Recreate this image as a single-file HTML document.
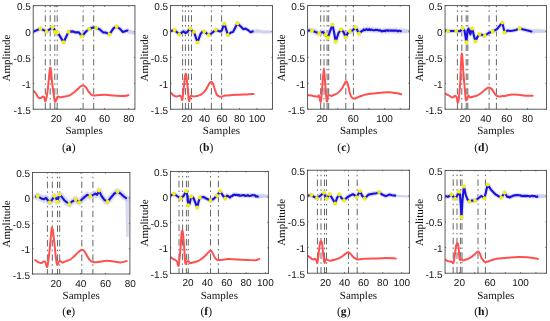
<!DOCTYPE html>
<html><head><meta charset="utf-8"><title>figure</title>
<style>
html,body{margin:0;padding:0;background:#fff;}
body{width:550px;height:321px;overflow:hidden;}
svg{display:block;filter:blur(0.35px);text-rendering:geometricPrecision;}
.tk{font-family:"Liberation Sans",sans-serif;font-size:10px;fill:#111111;}
.lb{font-family:"Liberation Serif",serif;font-size:11px;fill:#111111;}
.cap{font-family:"Liberation Serif",serif;font-size:11.6px;fill:#111111;}
</style></head><body>
<svg width="550" height="321" viewBox="0 0 550 321">
<clipPath id="ca"><rect x="33.2" y="5.65" width="101.75" height="103.55"/></clipPath>
<g clip-path="url(#ca)">
<line x1="45.3" y1="5.65" x2="45.3" y2="109.2" stroke="#555555" stroke-width="0.9" stroke-dasharray="6.5 3.25 1.5 3.33" stroke-dashoffset="4.95"/>
<line x1="50.2" y1="5.65" x2="50.2" y2="109.2" stroke="#555555" stroke-width="0.9" stroke-dasharray="6.5 3.25 1.5 3.33" stroke-dashoffset="4.95"/>
<line x1="54.8" y1="5.65" x2="54.8" y2="109.2" stroke="#555555" stroke-width="0.9" stroke-dasharray="6.5 3.25 1.5 3.33" stroke-dashoffset="4.95"/>
<line x1="57.2" y1="5.65" x2="57.2" y2="109.2" stroke="#555555" stroke-width="0.9" stroke-dasharray="6.5 3.25 1.5 3.33" stroke-dashoffset="4.95"/>
<line x1="83.1" y1="5.65" x2="83.1" y2="109.2" stroke="#555555" stroke-width="0.9" stroke-dasharray="6.5 3.25 1.5 3.33" stroke-dashoffset="4.95"/>
<line x1="93.7" y1="5.65" x2="93.7" y2="109.2" stroke="#555555" stroke-width="0.9" stroke-dasharray="6.5 3.25 1.5 3.33" stroke-dashoffset="4.95"/>
<polyline points="33.1,31.9 40.5,28.6 46.7,31.6 49.5,29.5 52.5,27.2 54.3,29.2 54.9,32 57.6,32.4 63.6,42.3 68.5,31.9 72.9,31.4 75.6,32.4 78.9,32.4 82,36.3 86,31.5 89.1,29 93,27.5 96.2,27.9 99.5,29.2 103.3,32.5 105.5,32.5 109.5,34.4 113.6,28.1 116.7,26.5 119.6,28.6 122.9,31.9 127.3,30.6" fill="none" stroke="#d2d5f0" stroke-width="4.5" stroke-linejoin="round" stroke-linecap="round" opacity="0.6"/>
<polyline points="127.3,30.6 131,32 134.5,33" fill="none" stroke="#d2d5f0" stroke-width="3.5" stroke-linejoin="round" stroke-linecap="round" opacity="0.8"/>
<path d="M33.1,30.6V34M33.8,30.11V33.09M34.5,29.01V33.37M35.2,29.54V33.02M35.9,28.26V32.11M36.6,28.77V32.42M37.3,27.83V31.89M38,27.68V31.61M38.7,27.86V31.31M39.4,27.04V30.86M40.1,27.36V30.35M40.8,26.43V30.97M41.5,27.1V30.87M42.2,27.06V31.34M42.9,28.48V31.12M43.6,28.08V32.26M44.3,28.67V32.6M45,28.68V33.12M45.7,29.74V32.63M46.4,29.59V33.02M47.1,28.98V33.43M47.8,28.52V32.43M48.5,28.82V32.31M49.2,27.81V31.86M49.9,27.25V31.25M50.6,26.6V30.09M51.3,26.47V29.79M52,25.32V29.07M52.7,25.6V29.44M53.4,26.09V30.2M54.1,26.75V30.74M54.8,29.51V33.68M55.5,29.99V34.28M56.2,30.55V34.59M56.9,30.39V34.14M57.6,31.07V33.79M58.3,32.18V35.19M59,32.79V36.45M59.7,33.65V37.39M60.4,35.56V39.4M61.1,36.58V40.1M61.8,37.49V40.94M62.5,38.26V42.74M63.2,40.3V43.7M63.9,39.36V43.61M64.6,38.08V42.01M65.3,37.24V40.8M66,35.21V38.79M66.7,33.89V37.85M67.4,32.45V36.18M68.1,30.53V34.75M68.8,29.77V33.84M69.5,30.5V33.74M70.2,30.19V33.81M70.9,29.25V33.53M71.6,29.55V33.66M72.3,30.06V33.56M73,29.45V33.32M73.7,29.34V33.39M74.4,29.78V34.07M75.1,30.88V34.36M75.8,30.77V34.37M76.5,30.98V34.29M77.2,31V33.98M77.9,30.27V34.13M78.6,30.53V34M79.3,31.51V34.8M80,31.88V35.4M80.7,32.7V37.01M81.4,33.67V37.44M82.1,34.33V38.19M82.8,33.72V37.18M83.5,32.44V36.83M84.2,32.02V35.24M84.9,30.56V34.76M85.6,30.02V34.35M86.3,29.69V33.45M87,28.41V32.72M87.7,27.89V32.23M88.4,27.66V31.54M89.1,27.55V30.42M89.8,26.79V30.87M90.5,26.31V30.42M91.2,26.21V30.48M91.9,25.59V30.05M92.6,25.37V29.55M93.3,25.45V29.94M94,26.17V29.03M94.7,26.38V29.34M95.4,25.56V29.32M96.1,25.91V29.94M96.8,26.55V29.73M97.5,26.98V29.97M98.2,26.95V30.59M98.9,26.7V31.3M99.6,27.96V30.99M100.3,27.54V32.18M101,28.41V32.62M101.7,28.73V33.36M102.4,29.54V34.01M103.1,30.46V34.35M103.8,30.25V34.17M104.5,30.78V34.34M105.2,30.26V33.92M105.9,30.44V34.99M106.6,31.66V34.39M107.3,31.11V35.6M108,31.71V35.1M108.7,32.62V36.17M109.4,32.41V36.29M110.1,31.13V35.19M110.8,30.57V33.76M111.5,29.5V32.9M112.2,28.55V32.08M112.9,27.11V30.55M113.6,26.67V29.99M114.3,25.51V29.98M115,25.6V29.03M115.7,25.64V29.21M116.4,24.39V28.54M117.1,25.37V28.33M117.8,25.94V29.3M118.5,25.87V29.12M119.2,26.65V30.2M119.9,27.07V30.35M120.6,27.43V31.44M121.3,28.34V32.26M122,29.36V33.13M122.7,29.34V33.51M123.4,29.96V33.62M124.1,29.97V33.89M124.8,29.92V33.15M125.5,29.38V33.14M126.2,28.81V32.63M126.9,28.52V32.36M127.6,28.84V33.53M128.3,27.65V33.65M129,29.02V34.09M129.7,29.3V33.87M130.4,29.95V34.39M131.1,29.78V34.43M131.8,29.74V33.61M132.5,30.15V34.15M133.2,30.97V34.68M133.9,31.62V34.15" stroke="#c4c8ea" stroke-width="0.7" opacity="0.6" fill="none"/>
<polyline points="33.1,31.9 40.5,28.6 46.7,31.6 49.5,29.5 52.5,27.2 54.3,29.2 54.9,32 57.6,32.4 63.6,42.3 68.5,31.9 72.9,31.4 75.6,32.4 78.9,32.4 82,36.3 86,31.5 89.1,29 93,27.5 96.2,27.9 99.5,29.2 103.3,32.5 105.5,32.5 109.5,34.4 113.6,28.1 116.7,26.5 119.6,28.6 122.9,31.9 127.3,30.6" fill="none" stroke="#1a12dc" stroke-width="2.1" stroke-linejoin="round" stroke-linecap="round"/>
<circle cx="40.5" cy="28.6" r="1.95" fill="#f4f000"/>
<circle cx="46.7" cy="31.6" r="1.95" fill="#f4f000"/>
<circle cx="52.5" cy="27.2" r="1.95" fill="#f4f000"/>
<circle cx="54.9" cy="32" r="1.95" fill="#f4f000"/>
<circle cx="57.6" cy="32.4" r="1.95" fill="#f4f000"/>
<circle cx="63.6" cy="42.3" r="1.95" fill="#f4f000"/>
<circle cx="68.5" cy="31.9" r="1.95" fill="#f4f000"/>
<circle cx="82" cy="36.3" r="1.95" fill="#f4f000"/>
<circle cx="89.1" cy="29" r="1.95" fill="#f4f000"/>
<circle cx="96.2" cy="27.9" r="1.95" fill="#f4f000"/>
<circle cx="109.5" cy="34.4" r="1.95" fill="#f4f000"/>
<circle cx="116.7" cy="26.5" r="1.95" fill="#f4f000"/>
<path d="M33.6,90.8 C33.98,91.25 35.13,92.4 35.9,93.5 C36.67,94.6 37.42,96.63 38.2,97.4 C38.98,98.17 39.82,98.23 40.6,98.1 C41.38,97.97 42.28,96.7 42.9,96.6 C43.52,96.5 43.87,96.77 44.3,97.5 C44.73,98.23 44.95,102.07 45.5,101 C46.05,99.93 46.82,96.63 47.6,91.1 C48.38,85.57 49.43,69.08 50.2,67.8 C50.97,66.52 51.55,78.47 52.2,83.4 C52.85,88.33 53.58,94.33 54.1,97.4 C54.62,100.47 54.7,101.93 55.3,101.8 C55.9,101.67 56.92,97.33 57.7,96.6 C58.48,95.87 59.1,97.37 60,97.4 C60.9,97.43 62.1,96.98 63.1,96.8 C64.1,96.62 64.92,96.53 66,96.3 C67.08,96.07 68.38,95.95 69.6,95.4 C70.82,94.85 72.05,93.93 73.3,93 C74.55,92.07 75.92,90.88 77.1,89.8 C78.28,88.72 79.38,87.23 80.4,86.5 C81.42,85.77 82.27,85.25 83.2,85.4 C84.13,85.55 85.15,86.43 86,87.4 C86.85,88.37 87.45,90.03 88.3,91.2 C89.15,92.37 90.22,93.67 91.1,94.4 C91.98,95.13 92.23,95.5 93.6,95.6 C94.97,95.7 97.38,95.13 99.3,95 C101.22,94.87 102.68,94.72 105.1,94.8 C107.52,94.88 110.9,95.3 113.8,95.5 C116.7,95.7 120.43,95.95 122.5,96 C124.57,96.05 125.22,95.95 126.2,95.8 C127.18,95.65 128.03,95.22 128.4,95.1" fill="none" stroke="#ff5050" stroke-width="2.0" stroke-linejoin="round" stroke-linecap="round"/>
</g>
<rect x="33.2" y="5.65" width="101.75" height="103.55" fill="none" stroke="#4a4a4a" stroke-width="0.9"/>
<line x1="33.2" y1="5.65" x2="34.2" y2="5.65" stroke="#4a4a4a" stroke-width="0.9"/>
<line x1="133.95" y1="5.65" x2="134.95" y2="5.65" stroke="#4a4a4a" stroke-width="0.9"/>
<text x="30.8" y="10.25" class="tk" text-anchor="end">0.5</text>
<line x1="33.2" y1="31.54" x2="34.2" y2="31.54" stroke="#4a4a4a" stroke-width="0.9"/>
<line x1="133.95" y1="31.54" x2="134.95" y2="31.54" stroke="#4a4a4a" stroke-width="0.9"/>
<text x="30.8" y="36.14" class="tk" text-anchor="end">0</text>
<line x1="33.2" y1="57.42" x2="34.2" y2="57.42" stroke="#4a4a4a" stroke-width="0.9"/>
<line x1="133.95" y1="57.42" x2="134.95" y2="57.42" stroke="#4a4a4a" stroke-width="0.9"/>
<text x="30.8" y="62.02" class="tk" text-anchor="end">-0.5</text>
<line x1="33.2" y1="83.31" x2="34.2" y2="83.31" stroke="#4a4a4a" stroke-width="0.9"/>
<line x1="133.95" y1="83.31" x2="134.95" y2="83.31" stroke="#4a4a4a" stroke-width="0.9"/>
<text x="30.8" y="87.91" class="tk" text-anchor="end">-1</text>
<line x1="33.2" y1="109.2" x2="34.2" y2="109.2" stroke="#4a4a4a" stroke-width="0.9"/>
<line x1="133.95" y1="109.2" x2="134.95" y2="109.2" stroke="#4a4a4a" stroke-width="0.9"/>
<text x="30.8" y="113.8" class="tk" text-anchor="end">-1.5</text>
<line x1="56.25" y1="109.2" x2="56.25" y2="108.2" stroke="#4a4a4a" stroke-width="0.9"/>
<line x1="56.25" y1="5.65" x2="56.25" y2="6.65" stroke="#4a4a4a" stroke-width="0.9"/>
<line x1="80.4" y1="109.2" x2="80.4" y2="108.2" stroke="#4a4a4a" stroke-width="0.9"/>
<line x1="80.4" y1="5.65" x2="80.4" y2="6.65" stroke="#4a4a4a" stroke-width="0.9"/>
<line x1="104.55" y1="109.2" x2="104.55" y2="108.2" stroke="#4a4a4a" stroke-width="0.9"/>
<line x1="104.55" y1="5.65" x2="104.55" y2="6.65" stroke="#4a4a4a" stroke-width="0.9"/>
<line x1="128.7" y1="109.2" x2="128.7" y2="108.2" stroke="#4a4a4a" stroke-width="0.9"/>
<line x1="128.7" y1="5.65" x2="128.7" y2="6.65" stroke="#4a4a4a" stroke-width="0.9"/>
<text x="56.25" y="122.1" class="tk" text-anchor="middle">20</text>
<text x="80.4" y="122.1" class="tk" text-anchor="middle">40</text>
<text x="104.55" y="122.1" class="tk" text-anchor="middle">60</text>
<text x="128.7" y="122.1" class="tk" text-anchor="middle">80</text>
<text class="lb" text-anchor="middle" transform="translate(10,58.03) rotate(-90)">Amplitude</text>
<text x="84.07" y="134" class="lb" text-anchor="middle">Samples</text>
<text x="68.75" y="150.7" class="cap" text-anchor="middle">(<tspan font-weight="bold">a</tspan>)</text>
<clipPath id="cb"><rect x="170.5" y="5.6" width="102" height="103.6"/></clipPath>
<g clip-path="url(#cb)">
<line x1="182.6" y1="5.6" x2="182.6" y2="109.2" stroke="#555555" stroke-width="0.9" stroke-dasharray="6.5 3.25 1.5 3.33" stroke-dashoffset="4.9"/>
<line x1="185.4" y1="5.6" x2="185.4" y2="109.2" stroke="#555555" stroke-width="0.9" stroke-dasharray="6.5 3.25 1.5 3.33" stroke-dashoffset="4.9"/>
<line x1="188.6" y1="5.6" x2="188.6" y2="109.2" stroke="#555555" stroke-width="0.9" stroke-dasharray="6.5 3.25 1.5 3.33" stroke-dashoffset="4.9"/>
<line x1="191.5" y1="5.6" x2="191.5" y2="109.2" stroke="#555555" stroke-width="0.9" stroke-dasharray="6.5 3.25 1.5 3.33" stroke-dashoffset="4.9"/>
<line x1="211.4" y1="5.6" x2="211.4" y2="109.2" stroke="#555555" stroke-width="0.9" stroke-dasharray="6.5 3.25 1.5 3.33" stroke-dashoffset="4.9"/>
<line x1="221.6" y1="5.6" x2="221.6" y2="109.2" stroke="#555555" stroke-width="0.9" stroke-dasharray="6.5 3.25 1.5 3.33" stroke-dashoffset="4.9"/>
<polyline points="171.1,31.1 174.6,30 179.3,34.4 182,32.4 183.6,31.4 185.3,33 186.8,32.5 188.5,30.3 190.4,28.6 192.3,31.4 194,31.9 197.5,42.5 200.5,34.1 202.2,31.9 204.3,31.4 208.7,35.2 212,33 215.8,29.7 218,30.8 220,31.4 221.6,30.8 224.4,23.7 227.9,35 230.9,32.5 233.1,31.9 235.3,27.5 237.5,23.2 240.2,25.9 243.5,29.2 245.6,28.6 248.4,30.3 250.5,32.2 252.7,31.4" fill="none" stroke="#d2d5f0" stroke-width="4.5" stroke-linejoin="round" stroke-linecap="round" opacity="0.6"/>
<polyline points="252.7,31.4 258,31 264,32 271.3,31.9" fill="none" stroke="#d2d5f0" stroke-width="2.6" stroke-linejoin="round" stroke-linecap="round" opacity="0.8"/>
<path d="M171.1,28.83V32.6M171.8,29.4V32.23M172.5,29.18V32.09M173.2,28.89V31.73M173.9,28.67V32.46M174.6,27.77V31.85M175.3,29.02V32.09M176,29.65V33.57M176.7,30.65V33.36M177.4,30.95V34.79M178.1,31.22V35.25M178.8,32.02V35.84M179.5,31.88V35.99M180.2,31.96V35.28M180.9,31V35.12M181.6,30.85V34.83M182.3,30.64V34.06M183,29.66V33.76M183.7,29.97V33.61M184.4,29.97V33.55M185.1,30.41V34.45M185.8,30.45V34.34M186.5,30.75V34.39M187.2,30.14V33.31M187.9,29.66V32.96M188.6,28V32.38M189.3,27.48V31.19M190,26.57V30.56M190.7,26.68V31.12M191.4,28.3V31.58M192.1,28.96V32.81M192.8,29.89V33.47M193.5,29.98V33.32M194.2,30.73V34.39M194.9,32.42V36.18M195.6,35.28V38.42M196.3,36.56V41.04M197,39.13V43.26M197.7,40.3V43.82M198.4,37.85V41.68M199.1,36.06V39.77M199.8,34.64V37.34M200.5,31.79V35.92M201.2,31.07V34.7M201.9,29.91V33.72M202.6,30.24V33.34M203.3,29.84V33.67M204,29.94V33.61M204.7,29.87V33.22M205.4,30.32V34.12M206.1,31.12V35.08M206.8,31.49V35.42M207.5,31.81V36.48M208.2,33.24V36.8M208.9,33.12V36.75M209.6,32.68V36.37M210.3,32.5V35.44M211,31.75V36.05M211.7,31.9V34.57M212.4,30.84V34.08M213.1,30.16V33.97M213.8,29.81V33.15M214.5,28.6V32.64M215.2,28.73V32.37M215.9,27.37V31.8M216.6,28.65V32.05M217.3,28.1V32.85M218,28.78V32.24M218.7,29.6V32.67M219.4,29.86V33.31M220.1,29.46V33.07M220.8,29.33V32.49M221.5,28.87V32.8M222.2,27.98V30.73M222.9,26.19V29.84M223.6,24.41V27.17M224.3,22.36V26.08M225,24.09V27.79M225.7,25.69V29.79M226.4,27.91V32.55M227.1,30.16V34.47M227.8,32.83V36.63M228.5,32.28V36.21M229.2,31.79V36.27M229.9,31.41V35.59M230.6,30.64V34.46M231.3,30.85V34.04M232,30.07V33.88M232.7,29.93V33.42M233.4,29.6V32.73M234.1,27.75V31.44M234.8,26.42V29.95M235.5,25.09V29.46M236.2,23.41V27.19M236.9,22.53V25.74M237.6,21.88V25.05M238.3,22.02V25.67M239,22.6V27.05M239.7,23.14V27.55M240.4,24.58V27.97M241.1,24.62V28.67M241.8,25.63V29.71M242.5,25.98V29.68M243.2,26.72V30.87M243.9,27.37V30.47M244.6,27.4V30.54M245.3,27.03V31.03M246,26.91V30.51M246.7,27.78V31.03M247.4,27.84V31.23M248.1,28.15V31.45M248.8,28.7V32.51M249.5,29.29V33.65M250.2,29.95V33.63M250.9,30.11V33.53M251.6,29.89V34.09M252.3,29.85V33.88M253,28.61V33.98M253.7,28.93V33.66M254.4,28.95V33.74M255.1,29.36V33.61M255.8,28.79V33.76M256.5,28.44V33.76M257.2,29.36V33.08M257.9,29.06V33.48M258.6,28.93V33.62M259.3,29V33.42M260,29.79V33.74M260.7,29.75V33.24M261.4,29.86V33.08M262.1,29.68V33.27M262.8,30.11V33.58M263.5,30.67V33.59M264.2,30.07V33.46M264.9,30.12V33.49M265.6,30V33.83M266.3,30.13V33.61M267,30.12V33.56M267.7,30.52V33.43M268.4,30.62V33.24M269.1,30.34V33.26M269.8,30.16V33.56M270.5,30.68V33.28M271.2,30.57V33.57" stroke="#c4c8ea" stroke-width="0.7" opacity="0.6" fill="none"/>
<polyline points="171.1,31.1 174.6,30 179.3,34.4 182,32.4 183.6,31.4 185.3,33 186.8,32.5 188.5,30.3 190.4,28.6 192.3,31.4 194,31.9 197.5,42.5 200.5,34.1 202.2,31.9 204.3,31.4 208.7,35.2 212,33 215.8,29.7 218,30.8 220,31.4 221.6,30.8 224.4,23.7 227.9,35 230.9,32.5 233.1,31.9 235.3,27.5 237.5,23.2 240.2,25.9 243.5,29.2 245.6,28.6 248.4,30.3 250.5,32.2 252.7,31.4" fill="none" stroke="#1a12dc" stroke-width="2.1" stroke-linejoin="round" stroke-linecap="round"/>
<circle cx="174.6" cy="30" r="1.95" fill="#f4f000"/>
<circle cx="179.3" cy="34.4" r="1.95" fill="#f4f000"/>
<circle cx="190.4" cy="28.6" r="1.95" fill="#f4f000"/>
<circle cx="194" cy="31.9" r="1.95" fill="#f4f000"/>
<circle cx="197.5" cy="42.5" r="1.95" fill="#f4f000"/>
<circle cx="204.3" cy="31.4" r="1.95" fill="#f4f000"/>
<circle cx="208.7" cy="35.2" r="1.95" fill="#f4f000"/>
<circle cx="215.8" cy="29.7" r="1.95" fill="#f4f000"/>
<circle cx="224.4" cy="23.7" r="1.95" fill="#f4f000"/>
<circle cx="227.9" cy="35" r="1.95" fill="#f4f000"/>
<circle cx="237.5" cy="23.2" r="1.95" fill="#f4f000"/>
<path d="M170.8,92.5 C171.23,92.98 172.42,94.72 173.4,95.4 C174.38,96.08 175.58,96.6 176.7,96.6 C177.82,96.6 179.35,95.37 180.1,95.4 C180.85,95.43 180.83,96.05 181.2,96.8 C181.57,97.55 181.92,101.03 182.3,99.9 C182.68,98.77 182.95,94.35 183.5,90 C184.05,85.65 184.95,74.67 185.6,73.8 C186.25,72.93 186.85,80.33 187.4,84.8 C187.95,89.27 188.43,98.55 188.9,100.6 C189.37,102.65 189.8,97.93 190.2,97.1 C190.6,96.27 190.75,95.68 191.3,95.6 C191.85,95.52 192.57,96.53 193.5,96.6 C194.43,96.67 195.73,96.28 196.9,96 C198.07,95.72 199.25,95.63 200.5,94.9 C201.75,94.17 203.28,92.85 204.4,91.6 C205.52,90.35 206.33,88.8 207.2,87.4 C208.07,86 208.9,84.13 209.6,83.2 C210.3,82.27 210.87,81.8 211.4,81.8 C211.93,81.8 212.4,82.5 212.8,83.2 C213.2,83.9 213.4,84.75 213.8,86 C214.2,87.25 214.67,89.22 215.2,90.7 C215.73,92.18 216.3,93.93 217,94.9 C217.7,95.87 218.7,96.18 219.4,96.5 C220.1,96.82 220.22,96.95 221.2,96.8 C222.18,96.65 223.42,95.88 225.3,95.6 C227.18,95.32 230.08,95.25 232.5,95.1 C234.92,94.95 237.37,94.82 239.8,94.7 C242.23,94.58 244.8,94.53 247.1,94.4 C249.4,94.27 252.52,93.98 253.6,93.9" fill="none" stroke="#ff5050" stroke-width="2.0" stroke-linejoin="round" stroke-linecap="round"/>
</g>
<rect x="170.5" y="5.6" width="102" height="103.6" fill="none" stroke="#4a4a4a" stroke-width="0.9"/>
<line x1="170.5" y1="5.6" x2="171.5" y2="5.6" stroke="#4a4a4a" stroke-width="0.9"/>
<line x1="271.5" y1="5.6" x2="272.5" y2="5.6" stroke="#4a4a4a" stroke-width="0.9"/>
<text x="168.1" y="10.2" class="tk" text-anchor="end">0.5</text>
<line x1="170.5" y1="31.5" x2="171.5" y2="31.5" stroke="#4a4a4a" stroke-width="0.9"/>
<line x1="271.5" y1="31.5" x2="272.5" y2="31.5" stroke="#4a4a4a" stroke-width="0.9"/>
<text x="168.1" y="36.1" class="tk" text-anchor="end">0</text>
<line x1="170.5" y1="57.4" x2="171.5" y2="57.4" stroke="#4a4a4a" stroke-width="0.9"/>
<line x1="271.5" y1="57.4" x2="272.5" y2="57.4" stroke="#4a4a4a" stroke-width="0.9"/>
<text x="168.1" y="62" class="tk" text-anchor="end">-0.5</text>
<line x1="170.5" y1="83.3" x2="171.5" y2="83.3" stroke="#4a4a4a" stroke-width="0.9"/>
<line x1="271.5" y1="83.3" x2="272.5" y2="83.3" stroke="#4a4a4a" stroke-width="0.9"/>
<text x="168.1" y="87.9" class="tk" text-anchor="end">-1</text>
<line x1="170.5" y1="109.2" x2="171.5" y2="109.2" stroke="#4a4a4a" stroke-width="0.9"/>
<line x1="271.5" y1="109.2" x2="272.5" y2="109.2" stroke="#4a4a4a" stroke-width="0.9"/>
<text x="168.1" y="113.8" class="tk" text-anchor="end">-1.5</text>
<line x1="187" y1="109.2" x2="187" y2="108.2" stroke="#4a4a4a" stroke-width="0.9"/>
<line x1="187" y1="5.6" x2="187" y2="6.6" stroke="#4a4a4a" stroke-width="0.9"/>
<line x1="204.5" y1="109.2" x2="204.5" y2="108.2" stroke="#4a4a4a" stroke-width="0.9"/>
<line x1="204.5" y1="5.6" x2="204.5" y2="6.6" stroke="#4a4a4a" stroke-width="0.9"/>
<line x1="222" y1="109.2" x2="222" y2="108.2" stroke="#4a4a4a" stroke-width="0.9"/>
<line x1="222" y1="5.6" x2="222" y2="6.6" stroke="#4a4a4a" stroke-width="0.9"/>
<line x1="239.5" y1="109.2" x2="239.5" y2="108.2" stroke="#4a4a4a" stroke-width="0.9"/>
<line x1="239.5" y1="5.6" x2="239.5" y2="6.6" stroke="#4a4a4a" stroke-width="0.9"/>
<line x1="257" y1="109.2" x2="257" y2="108.2" stroke="#4a4a4a" stroke-width="0.9"/>
<line x1="257" y1="5.6" x2="257" y2="6.6" stroke="#4a4a4a" stroke-width="0.9"/>
<text x="187" y="122.1" class="tk" text-anchor="middle">20</text>
<text x="204.5" y="122.1" class="tk" text-anchor="middle">40</text>
<text x="222" y="122.1" class="tk" text-anchor="middle">60</text>
<text x="239.5" y="122.1" class="tk" text-anchor="middle">80</text>
<text x="257" y="122.1" class="tk" text-anchor="middle">100</text>
<text class="lb" text-anchor="middle" transform="translate(147.5,58) rotate(-90)">Amplitude</text>
<text x="221.5" y="134" class="lb" text-anchor="middle">Samples</text>
<text x="206.25" y="150.7" class="cap" text-anchor="middle">(<tspan font-weight="bold">b</tspan>)</text>
<clipPath id="cc"><rect x="307.6" y="5.6" width="101.9" height="103.6"/></clipPath>
<g clip-path="url(#cc)">
<line x1="320.7" y1="5.6" x2="320.7" y2="109.2" stroke="#555555" stroke-width="0.9" stroke-dasharray="6.5 3.25 1.5 3.33" stroke-dashoffset="4.9"/>
<line x1="324" y1="5.6" x2="324" y2="109.2" stroke="#555555" stroke-width="0.9" stroke-dasharray="6.5 3.25 1.5 3.33" stroke-dashoffset="4.9"/>
<line x1="327.1" y1="5.6" x2="327.1" y2="109.2" stroke="#555555" stroke-width="0.9" stroke-dasharray="6.5 3.25 1.5 3.33" stroke-dashoffset="4.9"/>
<line x1="328.7" y1="5.6" x2="328.7" y2="109.2" stroke="#555555" stroke-width="0.9" stroke-dasharray="6.5 3.25 1.5 3.33" stroke-dashoffset="4.9"/>
<line x1="345.8" y1="5.6" x2="345.8" y2="109.2" stroke="#555555" stroke-width="0.9" stroke-dasharray="6.5 3.25 1.5 3.33" stroke-dashoffset="4.9"/>
<line x1="353.4" y1="5.6" x2="353.4" y2="109.2" stroke="#555555" stroke-width="0.9" stroke-dasharray="6.5 3.25 1.5 3.33" stroke-dashoffset="4.9"/>
<polyline points="307.7,30.5 312,30.5 315.5,32 319.2,33.4 322.8,31.9 325.6,34.8 327.8,37.7 330.5,30 332.5,24.8 334.2,33 335.7,41.5 338.5,33 341,29.5 343.5,32 345.7,37.2 347.8,33 349.7,31.2 352.5,30.5 355.7,27.2 359,33.4 362.2,30.5 365.5,29.5 369.3,29.5 373,30 376.5,30.1 380,30.8 383.6,31.2 387,30.6 390.8,30.5 394.5,31 398,30.9 400.8,31.2" fill="none" stroke="#d2d5f0" stroke-width="4.5" stroke-linejoin="round" stroke-linecap="round" opacity="0.6"/>
<polyline points="400.8,31.2 405,31 409.4,31.2" fill="none" stroke="#d2d5f0" stroke-width="3.5" stroke-linejoin="round" stroke-linecap="round" opacity="0.8"/>
<path d="M307.7,27.54V32.42M308.4,27.71V33.17M309.1,26.88V33.46M309.8,27.93V32.96M310.5,28.47V32.95M311.2,27.22V33.55M311.9,28.29V34.27M312.6,28.24V32.89M313.3,28.28V34.78M314,28.72V33.28M314.7,28.5V35.06M315.4,28.88V34.48M316.1,28.26V35.84M316.8,29.09V34.97M317.5,30.39V36.75M318.2,30.61V35.32M318.9,30.55V36.92M319.6,31.38V36.19M320.3,28.99V35.34M321,30.65V36.49M321.7,30.38V35.27M322.4,28.39V34.86M323.1,29.31V34.66M323.8,30.02V36.13M324.5,30.06V36.5M325.2,30.88V37.1M325.9,32.42V37.22M326.6,33.79V37.9M327.3,34V39.96M328,35.27V39.52M328.7,31.84V38.82M329.4,30.71V36.64M330.1,28.89V34.81M330.8,26.37V32.85M331.5,24.13V31M332.2,23.76V28.38M332.9,23.21V28.78M333.6,28.13V32.84M334.3,31V36.65M335,34.54V40.12M335.7,39.4V45.01M336.4,37.46V42.9M337.1,35.26V39.78M337.8,31.94V37.94M338.5,29.23V36.65M339.2,29.36V34.67M339.9,28.17V34.2M340.6,28.13V32.49M341.3,27.06V32.11M342,27.07V32.77M342.7,28.38V33.79M343.4,28.44V35.6M344.1,29.59V37.06M344.8,31.45V36.89M345.5,32.88V40.39M346.2,34.18V39.14M346.9,32.78V36.86M347.6,30.96V35.54M348.3,30.3V34.89M349,28.37V34.07M349.7,27.64V33.52M350.4,28.17V34.41M351.1,28.91V34.42M351.8,28.49V34.05M352.5,28.64V33.79M353.2,25.96V31.92M353.9,25.69V31.86M354.6,24.91V30.86M355.3,25.55V30.65M356,25.7V31.72M356.7,27.04V31.48M357.4,28.55V33.47M358.1,27.79V34.89M358.8,29.04V36.62M359.5,30.75V34.79M360.2,28.48V36.25M360.9,28.71V35.5M361.6,28.91V34.04M362.3,27.94V33.25M363,27.76V33.54M363.7,26.23V32.62M364.4,27.19V32.08M365.1,27.78V33.11M365.8,26.91V33.08M366.5,26.5V31.72M367.2,25.99V32.8M367.9,26.44V32.71M368.6,27.14V32.44M369.3,26.79V31.83M370,25.6V32.93M370.7,27.69V32.95M371.4,27.27V31.68M372.1,26.44V33.5M372.8,26.4V33.68M373.5,27.16V32.19M374.2,27.6V31.81M374.9,27.6V33.41M375.6,27.9V33.16M376.3,27.8V32.11M377,27.55V33.81M377.7,28.25V32.37M378.4,27.86V32.66M379.1,26.96V32.54M379.8,27.43V33.67M380.5,27.24V32.84M381.2,28.31V34.11M381.9,28.78V33.55M382.6,29.26V35.02M383.3,27.48V33.12M384,29.02V33.26M384.7,27.08V33.15M385.4,27.53V33.83M386.1,28.46V34.1M386.8,27.6V34.16M387.5,28.38V33.68M388.2,26.71V33.7M388.9,27.82V34.39M389.6,28.01V33.89M390.3,26.75V32.68M391,28.52V32.8M391.7,28.69V34.14M392.4,27.98V33.04M393.1,28.33V34.66M393.8,27.75V33.3M394.5,27.06V33.67M395.2,27.66V33.91M395.9,28.87V33.83M396.6,27.14V34.59M397.3,27.22V32.69M398,28.76V33.54M398.7,28.96V34.94M399.4,28.2V34.11M400.1,27.96V34.07M400.8,27.71V33.68M401.5,29.21V33.53M402.2,27.88V33.41M402.9,28.37V33.65M403.6,28.11V33.03M404.3,28.09V34.03M405,29.32V32.98M405.7,28.52V33.41M406.4,28.59V32.99M407.1,29.64V32.77M407.8,29.22V33.18M408.5,29.12V33.06M409.2,29.62V32.96" stroke="#c4c8ea" stroke-width="0.7" opacity="0.6" fill="none"/>
<polyline points="307.7,30.5 312,30.5 315.5,32 319.2,33.4 322.8,31.9 325.6,34.8 327.8,37.7 330.5,30 332.5,24.8 334.2,33 335.7,41.5 338.5,33 341,29.5 343.5,32 345.7,37.2 347.8,33 349.7,31.2 352.5,30.5 355.7,27.2 359,33.4 362,30.91 362.9,30.73 363.8,29.48 364.7,30.23 365.6,29.85 366.5,29.01 367.4,29.84 368.3,29.83 369.2,29.16 370.1,30.13 371,29.58 371.9,29.8 372.8,30.14 373.7,30.23 374.6,30.32 375.5,29.83 376.4,30.08 377.3,29.86 378.2,30.19 379.1,30.61 380,30.33 380.9,30.73 381.8,31.35 382.7,30.75 383.6,31.13 384.5,30.53 385.4,31.14 386.3,30.28 387.2,30.24 388.1,30.84 389,30.48 389.9,30.58 390.8,30.62 391.7,30.62 392.6,30.66 393.5,30.48 394.4,30.59 395.3,30.65 396.2,30.67 397.1,30.73 398,31.33 398.9,30.68 399.8,30.69 400.7,30.94 400.8,31.2" fill="none" stroke="#1a12dc" stroke-width="2.1" stroke-linejoin="round" stroke-linecap="round"/>
<circle cx="312" cy="30.5" r="1.95" fill="#f4f000"/>
<circle cx="319.2" cy="33.4" r="1.95" fill="#f4f000"/>
<circle cx="325.6" cy="34.8" r="1.95" fill="#f4f000"/>
<circle cx="327.8" cy="37.7" r="1.95" fill="#f4f000"/>
<circle cx="332.5" cy="24.8" r="1.95" fill="#f4f000"/>
<circle cx="335.7" cy="41.5" r="1.95" fill="#f4f000"/>
<circle cx="341" cy="29.5" r="1.95" fill="#f4f000"/>
<circle cx="345.7" cy="37.2" r="1.95" fill="#f4f000"/>
<circle cx="349.7" cy="31.2" r="1.95" fill="#f4f000"/>
<circle cx="355.7" cy="27.2" r="1.95" fill="#f4f000"/>
<circle cx="359" cy="33.4" r="1.95" fill="#f4f000"/>
<path d="M307.8,95.2 C308.67,95.32 311.38,95.65 313,95.9 C314.62,96.15 316.5,96.75 317.5,96.7 C318.5,96.65 318.45,94.78 319,95.6 C319.55,96.42 320.25,103.12 320.8,101.6 C321.35,100.08 321.78,92.07 322.3,86.5 C322.82,80.93 323.38,68.2 323.9,68.2 C324.42,68.2 324.92,81 325.4,86.5 C325.88,92 326.37,99.63 326.8,101.2 C327.23,102.77 327.55,96.9 328,95.9 C328.45,94.9 328.88,95.2 329.5,95.2 C330.12,95.2 331,95.95 331.7,95.9 C332.4,95.85 332.82,95.3 333.7,94.9 C334.58,94.5 335.98,94.12 337,93.5 C338.02,92.88 338.87,92.22 339.8,91.2 C340.73,90.18 341.73,88.82 342.6,87.4 C343.47,85.98 344.42,83.72 345,82.7 C345.58,81.68 345.72,81.3 346.1,81.3 C346.48,81.3 346.87,81.6 347.3,82.7 C347.73,83.8 348.23,86.02 348.7,87.9 C349.17,89.78 349.55,92.37 350.1,94 C350.65,95.63 351.3,96.93 352,97.7 C352.7,98.47 353.3,98.68 354.3,98.6 C355.3,98.52 356.75,97.67 358,97.2 C359.25,96.73 360.47,96.27 361.8,95.8 C363.13,95.33 364.02,94.8 366,94.4 C367.98,94 371.13,93.68 373.7,93.4 C376.27,93.12 378.82,92.88 381.4,92.7 C383.98,92.52 386.87,92.25 389.2,92.3 C391.53,92.35 393.38,92.68 395.4,93 C397.42,93.32 400.32,94 401.3,94.2" fill="none" stroke="#ff5050" stroke-width="2.0" stroke-linejoin="round" stroke-linecap="round"/>
</g>
<rect x="307.6" y="5.6" width="101.9" height="103.6" fill="none" stroke="#4a4a4a" stroke-width="0.9"/>
<line x1="307.6" y1="5.6" x2="308.6" y2="5.6" stroke="#4a4a4a" stroke-width="0.9"/>
<line x1="408.5" y1="5.6" x2="409.5" y2="5.6" stroke="#4a4a4a" stroke-width="0.9"/>
<text x="305.2" y="10.2" class="tk" text-anchor="end">0.5</text>
<line x1="307.6" y1="31.5" x2="308.6" y2="31.5" stroke="#4a4a4a" stroke-width="0.9"/>
<line x1="408.5" y1="31.5" x2="409.5" y2="31.5" stroke="#4a4a4a" stroke-width="0.9"/>
<text x="305.2" y="36.1" class="tk" text-anchor="end">0</text>
<line x1="307.6" y1="57.4" x2="308.6" y2="57.4" stroke="#4a4a4a" stroke-width="0.9"/>
<line x1="408.5" y1="57.4" x2="409.5" y2="57.4" stroke="#4a4a4a" stroke-width="0.9"/>
<text x="305.2" y="62" class="tk" text-anchor="end">-0.5</text>
<line x1="307.6" y1="83.3" x2="308.6" y2="83.3" stroke="#4a4a4a" stroke-width="0.9"/>
<line x1="408.5" y1="83.3" x2="409.5" y2="83.3" stroke="#4a4a4a" stroke-width="0.9"/>
<text x="305.2" y="87.9" class="tk" text-anchor="end">-1</text>
<line x1="307.6" y1="109.2" x2="308.6" y2="109.2" stroke="#4a4a4a" stroke-width="0.9"/>
<line x1="408.5" y1="109.2" x2="409.5" y2="109.2" stroke="#4a4a4a" stroke-width="0.9"/>
<text x="305.2" y="113.8" class="tk" text-anchor="end">-1.5</text>
<line x1="322" y1="109.2" x2="322" y2="108.2" stroke="#4a4a4a" stroke-width="0.9"/>
<line x1="322" y1="5.6" x2="322" y2="6.6" stroke="#4a4a4a" stroke-width="0.9"/>
<line x1="337.65" y1="109.2" x2="337.65" y2="108.2" stroke="#4a4a4a" stroke-width="0.9"/>
<line x1="337.65" y1="5.6" x2="337.65" y2="6.6" stroke="#4a4a4a" stroke-width="0.9"/>
<line x1="353.3" y1="109.2" x2="353.3" y2="108.2" stroke="#4a4a4a" stroke-width="0.9"/>
<line x1="353.3" y1="5.6" x2="353.3" y2="6.6" stroke="#4a4a4a" stroke-width="0.9"/>
<line x1="368.95" y1="109.2" x2="368.95" y2="108.2" stroke="#4a4a4a" stroke-width="0.9"/>
<line x1="368.95" y1="5.6" x2="368.95" y2="6.6" stroke="#4a4a4a" stroke-width="0.9"/>
<line x1="384.6" y1="109.2" x2="384.6" y2="108.2" stroke="#4a4a4a" stroke-width="0.9"/>
<line x1="384.6" y1="5.6" x2="384.6" y2="6.6" stroke="#4a4a4a" stroke-width="0.9"/>
<line x1="400.25" y1="109.2" x2="400.25" y2="108.2" stroke="#4a4a4a" stroke-width="0.9"/>
<line x1="400.25" y1="5.6" x2="400.25" y2="6.6" stroke="#4a4a4a" stroke-width="0.9"/>
<text x="322" y="122.1" class="tk" text-anchor="middle">20</text>
<text x="353.3" y="122.1" class="tk" text-anchor="middle">60</text>
<text x="384.6" y="122.1" class="tk" text-anchor="middle">100</text>
<text class="lb" text-anchor="middle" transform="translate(285,58) rotate(-90)">Amplitude</text>
<text x="358.55" y="134" class="lb" text-anchor="middle">Samples</text>
<text x="343.75" y="150.7" class="cap" text-anchor="middle">(<tspan font-weight="bold">c</tspan>)</text>
<clipPath id="cd"><rect x="445.05" y="5.6" width="101.45" height="103.6"/></clipPath>
<g clip-path="url(#cd)">
<line x1="457.4" y1="5.6" x2="457.4" y2="109.2" stroke="#555555" stroke-width="0.9" stroke-dasharray="6.5 3.25 1.5 3.33" stroke-dashoffset="4.9"/>
<line x1="461.8" y1="5.6" x2="461.8" y2="109.2" stroke="#555555" stroke-width="0.9" stroke-dasharray="6.5 3.25 1.5 3.33" stroke-dashoffset="4.9"/>
<line x1="466.2" y1="5.6" x2="466.2" y2="109.2" stroke="#555555" stroke-width="0.9" stroke-dasharray="6.5 3.25 1.5 3.33" stroke-dashoffset="4.9"/>
<line x1="467.8" y1="5.6" x2="467.8" y2="109.2" stroke="#555555" stroke-width="0.9" stroke-dasharray="6.5 3.25 1.5 3.33" stroke-dashoffset="4.9"/>
<line x1="489.1" y1="5.6" x2="489.1" y2="109.2" stroke="#555555" stroke-width="0.9" stroke-dasharray="6.5 3.25 1.5 3.33" stroke-dashoffset="4.9"/>
<line x1="496.4" y1="5.6" x2="496.4" y2="109.2" stroke="#555555" stroke-width="0.9" stroke-dasharray="6.5 3.25 1.5 3.33" stroke-dashoffset="4.9"/>
<polyline points="445.4,30.5 448,31.2 452,31 456.2,31 460,31.2 462.7,28.4 464.5,30.5 466.4,42.2 467.5,31 468.5,28.5 469.7,32.4 470.4,34.4 471.4,30 472.2,28.5 475.4,41.4 477.4,37 479.4,34 482.4,35 484.8,35.8 488.5,33 492.7,31.5 497,29.1 502.3,22.6 504.6,32.4 507.8,30.5 510.5,31 513.5,30.5 516,30 519.5,28.4 523.5,29.5 527.8,30.5 531.4,31.5" fill="none" stroke="#d2d5f0" stroke-width="4.5" stroke-linejoin="round" stroke-linecap="round" opacity="0.6"/>
<polyline points="531.4,31.5 538,31 545,31.2" fill="none" stroke="#d2d5f0" stroke-width="3.5" stroke-linejoin="round" stroke-linecap="round" opacity="0.8"/>
<path d="M445.4,28.24V32.66M446.1,29.36V33M446.8,29.06V33.27M447.5,28.94V33.44M448.2,29.66V32.97M448.9,29.45V32.99M449.6,28.78V33.11M450.3,28.78V32.71M451,29.33V32.59M451.7,29.07V32.93M452.4,28.62V32.73M453.1,29.29V32.88M453.8,29.7V33.06M454.5,29.72V32.36M455.2,29.43V32.51M455.9,28.8V32.53M456.6,29.56V32.64M457.3,29.11V33.33M458,29.19V32.76M458.7,29.11V32.7M459.4,29.66V32.92M460.1,28.96V32.73M460.8,28.6V31.73M461.5,27.68V30.94M462.2,26.77V31.1M462.9,26.74V30.22M463.6,27.4V31.44M464.3,28.23V32.34M465,31.39V35.51M465.7,36V39.42M466.4,40.78V44.35M467.1,32.89V36.5M467.8,28.95V32.63M468.5,26.95V30.02M469.2,29.33V32.68M469.9,30.83V34.39M470.6,32.02V35.05M471.3,28.96V32.32M472,26.67V30.24M472.7,29.04V32.72M473.4,31.24V35M474.1,34.69V38.35M474.8,36.67V40.37M475.5,39.65V42.8M476.2,37.44V41.32M476.9,36.03V40.35M477.6,35.06V38.05M478.3,33.76V37.69M479,33.14V36.49M479.7,32.51V36.16M480.4,32.92V36.66M481.1,32.31V36.02M481.8,33.3V36.93M482.5,33.32V36.91M483.2,33.01V37.47M483.9,34V37.35M484.6,33.38V37.44M485.3,33.23V37.57M486,33.56V37.03M486.7,32.65V36.33M487.4,31.98V35.83M488.1,31.94V34.85M488.8,31.5V34.63M489.5,30.85V34.55M490.2,30.63V34.53M490.9,30.03V33.72M491.6,29.57V34.05M492.3,30.3V33.84M493,29.28V33.16M493.7,29.59V32.37M494.4,29.12V32.9M495.1,28.68V31.53M495.8,28.06V32.14M496.5,27.23V30.93M497.2,26.62V30.75M497.9,25.84V29.41M498.6,25.5V29.46M499.3,24.99V28.29M500,23.59V27.33M500.7,23.23V26.55M501.4,21.32V25.61M502.1,21.3V24.85M502.8,22.38V26.63M503.5,25.5V29.51M504.2,29.24V32.66M504.9,30.04V33.98M505.6,30.29V33.96M506.3,29.57V33.62M507,29.08V32.58M507.7,28.54V32.34M508.4,28.85V31.96M509.1,29.41V32.4M509.8,28.7V32.48M510.5,29.61V32.93M511.2,29.41V32.23M511.9,29.43V32.44M512.6,28.75V32.23M513.3,29.24V32.33M514,28.77V31.85M514.7,28.49V31.73M515.4,27.8V32.05M516.1,28.53V32.05M516.8,28.08V31.58M517.5,28.01V30.88M518.2,27.04V30.84M518.9,26.68V30.92M519.6,26.61V30.35M520.3,26.48V30.21M521,27V30.13M521.7,26.64V30.5M522.4,27.66V31.01M523.1,27.49V30.79M523.8,27.57V31.69M524.5,27.45V31.33M525.2,27.8V31.2M525.9,28.31V32.27M526.6,28.6V31.61M527.3,28.75V32.48M528,28.96V32M528.7,29.39V33M529.4,28.91V32.82M530.1,29.22V33.04M530.8,29.65V33.05M531.5,29.52V33.71M532.2,28.53V34.43M532.9,29.46V33.3M533.6,29.2V34.11M534.3,28.78V32.97M535,29.66V34.02M535.7,29.39V33.02M536.4,29.26V32.76M537.1,28.55V32.58M537.8,29.5V32.93M538.5,28.45V32.48M539.2,28.71V32.4M539.9,29.48V32.5M540.6,29.43V33.42M541.3,29.49V32.62M542,29.14V32.66M542.7,29.78V32.9M543.4,29.13V32.42M544.1,29.86V32.86M544.8,29.59V32.53" stroke="#c4c8ea" stroke-width="0.7" opacity="0.6" fill="none"/>
<polyline points="445.4,30.5 448,31.2 452,31 456.2,31 460,31.2 462.7,28.4 464.5,30.5 466.4,42.2 467.5,31 468.5,28.5 469.7,32.4 470.4,34.4 471.4,30 472.2,28.5 475.4,41.4 477.4,37 479.4,34 482.4,35 484.8,35.8 488.5,33 492.7,31.5 497,29.1 502.3,22.6 504.6,32.4 507.8,30.5 510.5,31 513.5,30.5 516,30 519.5,28.4 523.5,29.5 527.8,30.5 531.4,31.5" fill="none" stroke="#1a12dc" stroke-width="2.1" stroke-linejoin="round" stroke-linecap="round"/>
<circle cx="448" cy="31.2" r="1.95" fill="#f4f000"/>
<circle cx="456.2" cy="31" r="1.95" fill="#f4f000"/>
<circle cx="462.7" cy="28.4" r="1.95" fill="#f4f000"/>
<circle cx="466.4" cy="42.2" r="1.95" fill="#f4f000"/>
<circle cx="472.2" cy="28.5" r="1.95" fill="#f4f000"/>
<circle cx="475.4" cy="41.4" r="1.95" fill="#f4f000"/>
<circle cx="479.4" cy="34" r="1.95" fill="#f4f000"/>
<circle cx="484.8" cy="35.8" r="1.95" fill="#f4f000"/>
<circle cx="492.7" cy="31.5" r="1.95" fill="#f4f000"/>
<circle cx="502.3" cy="22.6" r="1.95" fill="#f4f000"/>
<circle cx="504.6" cy="32.4" r="1.95" fill="#f4f000"/>
<circle cx="519.5" cy="28.4" r="1.95" fill="#f4f000"/>
<path d="M445.5,93.9 C446.03,94.15 447.55,94.78 448.7,95.4 C449.85,96.02 451.32,97.55 452.4,97.6 C453.48,97.65 454.48,95.72 455.2,95.7 C455.92,95.68 456.23,96.4 456.7,97.5 C457.17,98.6 457.47,104 458,102.3 C458.53,100.6 459.28,95.4 459.9,87.3 C460.52,79.2 461.08,55.75 461.7,53.7 C462.32,51.65 462.97,67.83 463.6,75 C464.23,82.17 465.03,92.47 465.5,96.7 C465.97,100.93 465.93,100.57 466.4,100.4 C466.87,100.23 467.7,96.23 468.3,95.7 C468.9,95.17 469.1,97.07 470,97.2 C470.9,97.33 472.45,96.8 473.7,96.5 C474.95,96.2 476.25,95.98 477.5,95.4 C478.75,94.82 479.95,93.93 481.2,93 C482.45,92.07 483.75,90.73 485,89.8 C486.25,88.87 487.62,87.57 488.7,87.4 C489.78,87.23 490.65,88.02 491.5,88.8 C492.35,89.58 493.02,91 493.8,92.1 C494.58,93.2 495.33,94.67 496.2,95.4 C497.07,96.13 497.92,96.38 499,96.5 C500.08,96.62 501.53,96.22 502.7,96.1 C503.87,95.98 504.42,96.07 506,95.8 C507.58,95.53 509.87,94.63 512.2,94.5 C514.53,94.37 517.4,94.78 520,95 C522.6,95.22 525.68,95.67 527.8,95.8 C529.92,95.93 531.88,95.8 532.7,95.8" fill="none" stroke="#ff5050" stroke-width="2.0" stroke-linejoin="round" stroke-linecap="round"/>
</g>
<rect x="445.05" y="5.6" width="101.45" height="103.6" fill="none" stroke="#4a4a4a" stroke-width="0.9"/>
<line x1="445.05" y1="5.6" x2="446.05" y2="5.6" stroke="#4a4a4a" stroke-width="0.9"/>
<line x1="545.5" y1="5.6" x2="546.5" y2="5.6" stroke="#4a4a4a" stroke-width="0.9"/>
<text x="442.65" y="10.2" class="tk" text-anchor="end">0.5</text>
<line x1="445.05" y1="31.5" x2="446.05" y2="31.5" stroke="#4a4a4a" stroke-width="0.9"/>
<line x1="545.5" y1="31.5" x2="546.5" y2="31.5" stroke="#4a4a4a" stroke-width="0.9"/>
<text x="442.65" y="36.1" class="tk" text-anchor="end">0</text>
<line x1="445.05" y1="57.4" x2="446.05" y2="57.4" stroke="#4a4a4a" stroke-width="0.9"/>
<line x1="545.5" y1="57.4" x2="546.5" y2="57.4" stroke="#4a4a4a" stroke-width="0.9"/>
<text x="442.65" y="62" class="tk" text-anchor="end">-0.5</text>
<line x1="445.05" y1="83.3" x2="446.05" y2="83.3" stroke="#4a4a4a" stroke-width="0.9"/>
<line x1="545.5" y1="83.3" x2="546.5" y2="83.3" stroke="#4a4a4a" stroke-width="0.9"/>
<text x="442.65" y="87.9" class="tk" text-anchor="end">-1</text>
<line x1="445.05" y1="109.2" x2="446.05" y2="109.2" stroke="#4a4a4a" stroke-width="0.9"/>
<line x1="545.5" y1="109.2" x2="546.5" y2="109.2" stroke="#4a4a4a" stroke-width="0.9"/>
<text x="442.65" y="113.8" class="tk" text-anchor="end">-1.5</text>
<line x1="464.97" y1="109.2" x2="464.97" y2="108.2" stroke="#4a4a4a" stroke-width="0.9"/>
<line x1="464.97" y1="5.6" x2="464.97" y2="6.6" stroke="#4a4a4a" stroke-width="0.9"/>
<line x1="485.84" y1="109.2" x2="485.84" y2="108.2" stroke="#4a4a4a" stroke-width="0.9"/>
<line x1="485.84" y1="5.6" x2="485.84" y2="6.6" stroke="#4a4a4a" stroke-width="0.9"/>
<line x1="506.71" y1="109.2" x2="506.71" y2="108.2" stroke="#4a4a4a" stroke-width="0.9"/>
<line x1="506.71" y1="5.6" x2="506.71" y2="6.6" stroke="#4a4a4a" stroke-width="0.9"/>
<line x1="527.58" y1="109.2" x2="527.58" y2="108.2" stroke="#4a4a4a" stroke-width="0.9"/>
<line x1="527.58" y1="5.6" x2="527.58" y2="6.6" stroke="#4a4a4a" stroke-width="0.9"/>
<text x="464.97" y="122.1" class="tk" text-anchor="middle">20</text>
<text x="485.84" y="122.1" class="tk" text-anchor="middle">40</text>
<text x="506.71" y="122.1" class="tk" text-anchor="middle">60</text>
<text x="527.58" y="122.1" class="tk" text-anchor="middle">80</text>
<text class="lb" text-anchor="middle" transform="translate(422.5,58) rotate(-90)">Amplitude</text>
<text x="495.77" y="134" class="lb" text-anchor="middle">Samples</text>
<text x="481.25" y="150.7" class="cap" text-anchor="middle">(<tspan font-weight="bold">d</tspan>)</text>
<clipPath id="ce"><rect x="32.45" y="172.5" width="97.45" height="101.5"/></clipPath>
<g clip-path="url(#ce)">
<line x1="47.4" y1="172.5" x2="47.4" y2="274" stroke="#555555" stroke-width="0.9" stroke-dasharray="6.5 3.25 1.5 3.33" stroke-dashoffset="5.5"/>
<line x1="52.3" y1="172.5" x2="52.3" y2="274" stroke="#555555" stroke-width="0.9" stroke-dasharray="6.5 3.25 1.5 3.33" stroke-dashoffset="5.5"/>
<line x1="57.5" y1="172.5" x2="57.5" y2="274" stroke="#555555" stroke-width="0.9" stroke-dasharray="6.5 3.25 1.5 3.33" stroke-dashoffset="5.5"/>
<line x1="59.7" y1="172.5" x2="59.7" y2="274" stroke="#555555" stroke-width="0.9" stroke-dasharray="6.5 3.25 1.5 3.33" stroke-dashoffset="5.5"/>
<line x1="81.8" y1="172.5" x2="81.8" y2="274" stroke="#555555" stroke-width="0.9" stroke-dasharray="6.5 3.25 1.5 3.33" stroke-dashoffset="5.5"/>
<line x1="92.9" y1="172.5" x2="92.9" y2="274" stroke="#555555" stroke-width="0.9" stroke-dasharray="6.5 3.25 1.5 3.33" stroke-dashoffset="5.5"/>
<polyline points="35.8,196.6 37.6,196.2 41.3,198.4 43.7,199.3 46,197.9 47.4,199.8 49.8,202.1 52.1,199.8 54.4,196 56.3,198.4 57.2,201.6 58.2,197.9 59.6,194.6 61.9,197 64.2,200.2 66.6,202.1 69.4,204 72,201.6 75.7,199.5 79.3,202.1 82.1,199.2 84.5,197.1 87.2,194.9 90.3,196.4 93.6,194.6 95.5,193.5 97.2,194.9 99.1,190.6 101.5,196 104.4,199.9 107.5,201.8 111,197.5 114.4,193.5 117.5,191.6 120.5,193.5 123.7,196.4 126.1,198.1" fill="none" stroke="#d2d5f0" stroke-width="6.5" stroke-linejoin="round" stroke-linecap="round" opacity="0.6"/>
<polyline points="126.1,198.1 128,200" fill="none" stroke="#d2d5f0" stroke-width="3.5" stroke-linejoin="round" stroke-linecap="round" opacity="0.8"/>
<path d="M35.8,193.41V198.84M36.5,192.11V198.68M37.2,192.75V200.46M37.9,192.79V198.7M38.6,192.82V199.28M39.3,193.36V199.46M40,193.4V199.92M40.7,194.5V200.73M41.4,196.11V200.88M42.1,194.54V202.7M42.8,195.41V200.89M43.5,195.33V203.44M44.2,196.1V202.93M44.9,194.46V200.89M45.6,194.81V200.6M46.3,195.08V202.08M47,196.01V202.32M47.7,197.17V204.04M48.4,197.5V204.77M49.1,198.72V203.41M49.8,197.94V205.26M50.5,198.7V204.82M51.2,197.67V203.36M51.9,197.5V203.93M52.6,195.12V203.28M53.3,193.48V202.1M54,194.4V199.98M54.7,192.91V200.23M55.4,193.92V199.72M56.1,195.1V202.28M56.8,196.49V204.28M57.5,198.34V202.94M58.2,194.61V200.94M58.9,192.91V200.42M59.6,192.04V198.8M60.3,191.18V199.44M61,192.36V200.34M61.7,193.36V199.43M62.4,193.33V199.71M63.1,195V202.71M63.8,195.87V201.79M64.5,196.55V204.48M65.2,197.3V205.06M65.9,197.22V205.24M66.6,198.53V206.31M67.3,199.43V205.38M68,200.9V206.96M68.7,201.55V206.62M69.4,201.93V207.3M70.1,201.1V207.68M70.8,200.23V206.98M71.5,198.38V204.9M72.2,198.55V204.22M72.9,198.56V203.87M73.6,196.41V203.54M74.3,196.08V202.99M75,196.97V201.89M75.7,196.58V201.39M76.4,195.64V203.21M77.1,196.82V204.05M77.8,197.94V204.19M78.5,198.77V203.75M79.2,198.24V204.68M79.9,199.33V204.3M80.6,198.38V203.56M81.3,196.49V203.84M82,194.94V203.19M82.7,194.54V201.08M83.4,194.78V199.95M84.1,193.59V199.9M84.8,194.31V200.68M85.5,194.33V200.51M86.2,193.64V198.68M86.9,191.5V198.11M87.6,191.93V198.22M88.3,191.39V197.37M89,193.09V200.12M89.7,192.58V198.64M90.4,192.28V200.18M91.1,192.08V198.37M91.8,191.84V198.33M92.5,192.42V198.61M93.2,190.43V197.66M93.9,191.71V196.78M94.6,192.12V197.28M95.3,191.12V197.33M96,190.89V198.27M96.7,191.57V198.33M97.4,190.67V196.62M98.1,190.22V196.38M98.8,187.15V193.6M99.5,189.4V195.83M100.2,190.76V197.47M100.9,191.32V197.43M101.6,193V199.51M102.3,194.32V200.4M103,195.61V202.09M103.7,194.89V201.88M104.4,196.3V203.75M105.1,196.27V204.48M105.8,196.46V203.54M106.5,198.98V205.33M107.2,199.6V203.69M107.9,199.22V203.97M108.6,198.07V202.79M109.3,196.67V202.85M110,196.73V201.77M110.7,194.78V202.16M111.4,192.85V199.82M112.1,193.26V200.38M112.8,193.06V197.84M113.5,191.92V198.21M114.2,191.03V195.72M114.9,189.33V196.2M115.6,189.23V195.94M116.3,188.06V195.95M117,189.86V195.35M117.7,188.86V195.16M118.4,190.13V195.67M119.1,188.53V194.75M119.8,190.43V196.39M120.5,190.87V197.33M121.2,189.94V197.88M121.9,190.65V198.82M122.6,193.12V198.44M123.3,193.4V199.98M124,194.01V200.04M124.7,192.79V199.16M125.4,195.63V201.41M126.1,195.62V201.24M126.8,195.95V200.95M127.5,197.76V201.84" stroke="#c4c8ea" stroke-width="0.7" opacity="0.6" fill="none"/>
<path d="M125.2,196 L129.2,196 L128.6,237 L126.2,237 Z" fill="#d2d5f0" opacity="0.85"/>
<polyline points="35.8,196.6 37.6,196.2 41.3,198.4 43.7,199.3 46,197.9 47.4,199.8 49.8,202.1 52.1,199.8 54.4,196 56.3,198.4 57.2,201.6 58.2,197.9 59.6,194.6 61.9,197 64.2,200.2 66.6,202.1 69.4,204 72,201.6 75.7,199.5 79.3,202.1 82.1,199.2 84.5,197.1 87.2,194.9 90.3,196.4 93.6,194.6 95.5,193.5 97.2,194.9 99.1,190.6 101.5,196 104.4,199.9 107.5,201.8 111,197.5 114.4,193.5 117.5,191.6 120.5,193.5 123.7,196.4 126.1,198.1" fill="none" stroke="#1a12dc" stroke-width="2.1" stroke-linejoin="round" stroke-linecap="round"/>
<circle cx="37.6" cy="196.2" r="1.95" fill="#f4f000"/>
<circle cx="49.8" cy="202.1" r="1.95" fill="#f4f000"/>
<circle cx="54.4" cy="196" r="1.95" fill="#f4f000"/>
<circle cx="57.2" cy="201.6" r="1.95" fill="#f4f000"/>
<circle cx="59.6" cy="194.6" r="1.95" fill="#f4f000"/>
<circle cx="69.4" cy="204" r="1.95" fill="#f4f000"/>
<circle cx="75.7" cy="199.5" r="1.95" fill="#f4f000"/>
<circle cx="79.3" cy="202.1" r="1.95" fill="#f4f000"/>
<circle cx="90.3" cy="196.4" r="1.95" fill="#f4f000"/>
<circle cx="99.1" cy="190.6" r="1.95" fill="#f4f000"/>
<circle cx="107.5" cy="201.8" r="1.95" fill="#f4f000"/>
<circle cx="117.5" cy="191.6" r="1.95" fill="#f4f000"/>
<path d="M35.1,260 C35.62,260.35 37.17,261.58 38.2,262.1 C39.23,262.62 40.38,263.18 41.3,263.1 C42.22,263.02 43,261.7 43.7,261.6 C44.4,261.5 44.9,261.65 45.5,262.5 C46.1,263.35 46.67,268.28 47.3,266.7 C47.93,265.12 48.6,259.12 49.3,253 C50,246.88 51.02,234.17 51.5,230 C51.98,225.83 51.97,227.92 52.2,228 C52.43,228.08 52.5,227.67 52.9,230.5 C53.3,233.33 54.08,240.33 54.6,245 C55.12,249.67 55.57,255.2 56,258.5 C56.43,261.8 56.73,264.28 57.2,264.8 C57.67,265.32 58.2,262.22 58.8,261.6 C59.4,260.98 60.27,260.95 60.8,261.1 C61.33,261.25 61.47,262.35 62,262.5 C62.53,262.65 63.22,262.27 64,262 C64.78,261.73 65.63,261.32 66.7,260.9 C67.77,260.48 69.17,260.28 70.4,259.5 C71.63,258.72 72.85,257.37 74.1,256.2 C75.35,255.03 76.62,253.58 77.9,252.5 C79.18,251.42 80.72,249.93 81.8,249.7 C82.88,249.47 83.5,250.02 84.4,251.1 C85.3,252.18 86.27,254.65 87.2,256.2 C88.13,257.75 89.07,259.42 90,260.4 C90.93,261.38 91.47,261.82 92.8,262.1 C94.13,262.38 95.72,262.32 98,262.1 C100.28,261.88 103.78,260.88 106.5,260.8 C109.22,260.72 111.97,261.33 114.3,261.6 C116.63,261.87 118.43,262.48 120.5,262.4 C122.57,262.32 125.67,261.32 126.7,261.1" fill="none" stroke="#ff5050" stroke-width="2.0" stroke-linejoin="round" stroke-linecap="round"/>
</g>
<rect x="32.45" y="172.5" width="97.45" height="101.5" fill="none" stroke="#4a4a4a" stroke-width="0.9"/>
<line x1="32.45" y1="172.5" x2="33.45" y2="172.5" stroke="#4a4a4a" stroke-width="0.9"/>
<line x1="128.9" y1="172.5" x2="129.9" y2="172.5" stroke="#4a4a4a" stroke-width="0.9"/>
<text x="30.05" y="177.1" class="tk" text-anchor="end">0.5</text>
<line x1="32.45" y1="197.88" x2="33.45" y2="197.88" stroke="#4a4a4a" stroke-width="0.9"/>
<line x1="128.9" y1="197.88" x2="129.9" y2="197.88" stroke="#4a4a4a" stroke-width="0.9"/>
<text x="30.05" y="202.47" class="tk" text-anchor="end">0</text>
<line x1="32.45" y1="223.25" x2="33.45" y2="223.25" stroke="#4a4a4a" stroke-width="0.9"/>
<line x1="128.9" y1="223.25" x2="129.9" y2="223.25" stroke="#4a4a4a" stroke-width="0.9"/>
<text x="30.05" y="227.85" class="tk" text-anchor="end">-0.5</text>
<line x1="32.45" y1="248.62" x2="33.45" y2="248.62" stroke="#4a4a4a" stroke-width="0.9"/>
<line x1="128.9" y1="248.62" x2="129.9" y2="248.62" stroke="#4a4a4a" stroke-width="0.9"/>
<text x="30.05" y="253.22" class="tk" text-anchor="end">-1</text>
<line x1="32.45" y1="274" x2="33.45" y2="274" stroke="#4a4a4a" stroke-width="0.9"/>
<line x1="128.9" y1="274" x2="129.9" y2="274" stroke="#4a4a4a" stroke-width="0.9"/>
<text x="30.05" y="278.6" class="tk" text-anchor="end">-1.5</text>
<line x1="55.95" y1="274" x2="55.95" y2="273" stroke="#4a4a4a" stroke-width="0.9"/>
<line x1="55.95" y1="172.5" x2="55.95" y2="173.5" stroke="#4a4a4a" stroke-width="0.9"/>
<line x1="80.7" y1="274" x2="80.7" y2="273" stroke="#4a4a4a" stroke-width="0.9"/>
<line x1="80.7" y1="172.5" x2="80.7" y2="173.5" stroke="#4a4a4a" stroke-width="0.9"/>
<line x1="105.45" y1="274" x2="105.45" y2="273" stroke="#4a4a4a" stroke-width="0.9"/>
<line x1="105.45" y1="172.5" x2="105.45" y2="173.5" stroke="#4a4a4a" stroke-width="0.9"/>
<text x="55.95" y="286.9" class="tk" text-anchor="middle">20</text>
<text x="80.7" y="286.9" class="tk" text-anchor="middle">40</text>
<text x="105.45" y="286.9" class="tk" text-anchor="middle">60</text>
<text x="130.2" y="286.9" class="tk" text-anchor="middle">80</text>
<text class="lb" text-anchor="middle" transform="translate(10,223.85) rotate(-90)">Amplitude</text>
<text x="81.18" y="298.5" class="lb" text-anchor="middle">Samples</text>
<text x="68.75" y="314.9" class="cap" text-anchor="middle">(<tspan font-weight="bold">e</tspan>)</text>
<clipPath id="cf"><rect x="170.4" y="171.4" width="98" height="101.95"/></clipPath>
<g clip-path="url(#cf)">
<line x1="179" y1="171.4" x2="179" y2="273.35" stroke="#555555" stroke-width="0.9" stroke-dasharray="6.5 3.25 1.5 3.33" stroke-dashoffset="5.2"/>
<line x1="182.6" y1="171.4" x2="182.6" y2="273.35" stroke="#555555" stroke-width="0.9" stroke-dasharray="6.5 3.25 1.5 3.33" stroke-dashoffset="5.2"/>
<line x1="186.4" y1="171.4" x2="186.4" y2="273.35" stroke="#555555" stroke-width="0.9" stroke-dasharray="6.5 3.25 1.5 3.33" stroke-dashoffset="5.2"/>
<line x1="188.3" y1="171.4" x2="188.3" y2="273.35" stroke="#555555" stroke-width="0.9" stroke-dasharray="6.5 3.25 1.5 3.33" stroke-dashoffset="5.2"/>
<line x1="210.5" y1="171.4" x2="210.5" y2="273.35" stroke="#555555" stroke-width="0.9" stroke-dasharray="6.5 3.25 1.5 3.33" stroke-dashoffset="5.2"/>
<line x1="218.4" y1="171.4" x2="218.4" y2="273.35" stroke="#555555" stroke-width="0.9" stroke-dasharray="6.5 3.25 1.5 3.33" stroke-dashoffset="5.2"/>
<polyline points="170.4,195.6 174,193.8 177,196 180.7,198.5 183.5,196 186.2,191.3 187.5,196 188.3,205.2 189.5,204 191.2,196.6 193.5,198 195.5,203 197.2,207.5 198.5,202 199.8,197.5 203.5,197 206.2,198.5 210.5,200.7 213.5,199 217,195.6 220.2,191.3 222.5,195 225.2,198.5 227,195.6 229.9,197.5 233.5,194.6 238.5,195.2 245.7,195.6 252.8,195.2 257.8,196.6" fill="none" stroke="#d2d5f0" stroke-width="4.5" stroke-linejoin="round" stroke-linecap="round" opacity="0.6"/>
<polyline points="257.8,196.6 263,196 267.9,196.4" fill="none" stroke="#d2d5f0" stroke-width="3.5" stroke-linejoin="round" stroke-linecap="round" opacity="0.8"/>
<path d="M170.4,193.94V198.48M171.1,192.91V197.56M171.8,193.32V197.46M172.5,191.83V197.14M173.2,192.26V196.9M173.9,191.76V196.18M174.6,192.58V196.2M175.3,192.83V196.53M176,192.72V196.98M176.7,192.97V197.93M177.4,193.88V198.66M178.1,195.25V198.4M178.8,195.48V199.9M179.5,195.11V199.24M180.2,196.03V200.94M180.9,195.54V201.22M181.6,195.38V200.17M182.3,195.24V198.89M183,194.04V199.39M183.7,193.96V198.14M184.4,192.83V196.44M185.1,190.8V195.41M185.8,190.35V194.75M186.5,190.92V194.01M187.2,193.24V196.62M187.9,198.94V203.16M188.6,203.21V206.43M189.3,202.06V205.8M190,200.36V204.52M190.7,196.27V201.38M191.4,193.85V198.87M192.1,194.29V198.68M192.8,194.7V199.32M193.5,195.59V199.95M194.2,197.51V202.17M194.9,199.4V203.06M195.6,201.33V205.4M196.3,203.51V206.58M197,205.04V208.7M197.7,203.61V208.25M198.4,200V204.83M199.1,197.44V202.33M199.8,194.57V199.94M200.5,195.42V198.97M201.2,194.64V200.22M201.9,195.31V200.15M202.6,194.62V198.97M203.3,195.08V198.71M204,195.06V200.08M204.7,195.69V200.57M205.4,196.56V200.6M206.1,196.52V200.35M206.8,196.12V200.47M207.5,196.63V200.75M208.2,198.06V201.48M208.9,198.25V202.74M209.6,197.94V202.33M210.3,198.47V202.4M211,198.6V202.99M211.7,197.54V201.54M212.4,196.87V201.79M213.1,196.87V201.98M213.8,196.88V201.25M214.5,195.83V200.62M215.2,195.3V199.25M215.9,194.19V198.37M216.6,193.4V197.95M217.3,192.67V198.17M218,192.68V196.63M218.7,191.57V195.99M219.4,189.7V195.24M220.1,189.78V194.13M220.8,190.27V193.91M221.5,191.84V194.93M222.2,192.93V197.42M222.9,193.8V197.62M223.6,194.89V198.54M224.3,194.45V199.49M225,195.36V200.32M225.7,194.96V200.17M226.4,194.96V199.01M227.1,193.05V197.97M227.8,193.73V197.96M228.5,194.1V198.27M229.2,194.5V198.9M229.9,194.86V200.26M230.6,194.28V199.51M231.3,194.31V199.26M232,194.21V198.27M232.7,192.65V198.17M233.4,192.66V197.59M234.1,192.3V196.14M234.8,192.63V197.05M235.5,192.21V196.82M236.2,193.27V196.67M236.9,192.12V197.85M237.6,193.17V196.93M238.3,193.39V197.5M239,193.62V196.9M239.7,193.36V197.63M240.4,193.07V197.8M241.1,192.84V198.2M241.8,192.85V197.09M242.5,193.28V197.63M243.2,193.77V197.91M243.9,194.02V198.03M244.6,193.25V197.58M245.3,193.42V197.95M246,193.44V197.88M246.7,193.35V198.22M247.4,192.83V197.23M248.1,193.62V197.99M248.8,193.83V197.85M249.5,193.41V198.34M250.2,192.65V197.1M250.9,193.44V197.86M251.6,193.42V198.12M252.3,193.07V197.59M253,193.42V197.77M253.7,192.98V198.16M254.4,192.77V198.58M255.1,193.54V197.8M255.8,193.22V197.77M256.5,193.31V198M257.2,194.62V198.16M257.9,193.39V199.42M258.6,193.49V198.89M259.3,193.91V198.68M260,193.64V197.88M260.7,193.89V198.74M261.4,193.57V198.22M262.1,194.42V197.95M262.8,193.81V198.58M263.5,194.39V197.66M264.2,194.75V197.59M264.9,194.29V198.33M265.6,194.24V197.63M266.3,194.94V198M267,194.69V197.57M267.7,194.6V198.13" stroke="#c4c8ea" stroke-width="0.7" opacity="0.6" fill="none"/>
<polyline points="170.4,195.6 174,193.8 177,196 180.7,198.5 183.5,196 186.2,191.3 187.5,196 188.3,205.2 189.5,204 191.2,196.6 193.5,198 195.5,203 197.2,207.5 198.5,202 199.8,197.5 203.5,197 206.2,198.5 210.5,200.7 213.5,199 217,195.6 220.2,191.3 222.5,195 225.2,198.5 227,195.6 228,196.01 228.9,196.8 229.8,197.49 230.7,196.42 231.6,196.13 232.5,195.91 233.4,194.75 234.3,194.72 235.2,195.12 236.1,194.86 237,194.77 237.9,195.5 238.8,194.85 239.7,195.69 240.6,195.74 241.5,195.42 242.4,195.43 243.3,194.99 244.2,195.16 245.1,195.87 246,195.83 246.9,195.67 247.8,195.08 248.7,195.68 249.6,195.92 250.5,195.74 251.4,195.46 252.3,195.17 253.2,195.23 254.1,195.18 255,195.31 255.9,196.58 256.8,196.21 257.7,196.45 257.8,196.6" fill="none" stroke="#1a12dc" stroke-width="2.1" stroke-linejoin="round" stroke-linecap="round"/>
<circle cx="174" cy="193.8" r="1.95" fill="#f4f000"/>
<circle cx="180.7" cy="198.5" r="1.95" fill="#f4f000"/>
<circle cx="186.2" cy="191.3" r="1.95" fill="#f4f000"/>
<circle cx="188.3" cy="205.2" r="1.95" fill="#f4f000"/>
<circle cx="191.2" cy="196.6" r="1.95" fill="#f4f000"/>
<circle cx="197.2" cy="207.5" r="1.95" fill="#f4f000"/>
<circle cx="199.8" cy="197.5" r="1.95" fill="#f4f000"/>
<circle cx="210.5" cy="200.7" r="1.95" fill="#f4f000"/>
<circle cx="217" cy="195.6" r="1.95" fill="#f4f000"/>
<circle cx="220.2" cy="191.3" r="1.95" fill="#f4f000"/>
<circle cx="225.2" cy="198.5" r="1.95" fill="#f4f000"/>
<path d="M170.2,256.9 C170.65,257.23 172.07,258.38 172.9,258.9 C173.73,259.42 174.52,259.57 175.2,260 C175.88,260.43 176.43,260.57 177,261.5 C177.57,262.43 178.07,267.18 178.6,265.6 C179.13,264.02 179.7,257.35 180.2,252 C180.7,246.65 181.25,237 181.6,233.5 C181.95,230 182.07,231 182.3,231 C182.53,231 182.68,230.67 183,233.5 C183.32,236.33 183.82,243.07 184.2,248 C184.58,252.93 184.85,260.83 185.3,263.1 C185.75,265.37 186.37,261.93 186.9,261.6 C187.43,261.27 187.98,260.85 188.5,261.1 C189.02,261.35 189.42,262.82 190,263.1 C190.58,263.38 191.05,263.02 192,262.8 C192.95,262.58 194.45,262.2 195.7,261.8 C196.95,261.4 198.25,261.1 199.5,260.4 C200.75,259.7 201.95,258.68 203.2,257.6 C204.45,256.52 205.83,255.07 207,253.9 C208.17,252.73 209.35,250.92 210.2,250.6 C211.05,250.28 211.4,250.98 212.1,252 C212.8,253.02 213.62,255.42 214.4,256.7 C215.18,257.98 216.02,259.15 216.8,259.7 C217.58,260.25 218.1,260 219.1,260 C220.1,260 221.32,259.87 222.8,259.7 C224.28,259.53 225.6,259.03 228,259 C230.4,258.97 233.85,259.33 237.2,259.5 C240.55,259.67 244.98,259.88 248.1,260 C251.22,260.12 254.03,260.38 255.9,260.2 C257.77,260.02 258.73,259.12 259.3,258.9" fill="none" stroke="#ff5050" stroke-width="2.0" stroke-linejoin="round" stroke-linecap="round"/>
</g>
<rect x="170.4" y="171.4" width="98" height="101.95" fill="none" stroke="#4a4a4a" stroke-width="0.9"/>
<line x1="170.4" y1="171.4" x2="171.4" y2="171.4" stroke="#4a4a4a" stroke-width="0.9"/>
<line x1="267.4" y1="171.4" x2="268.4" y2="171.4" stroke="#4a4a4a" stroke-width="0.9"/>
<text x="168" y="176" class="tk" text-anchor="end">0.5</text>
<line x1="170.4" y1="196.89" x2="171.4" y2="196.89" stroke="#4a4a4a" stroke-width="0.9"/>
<line x1="267.4" y1="196.89" x2="268.4" y2="196.89" stroke="#4a4a4a" stroke-width="0.9"/>
<text x="168" y="201.49" class="tk" text-anchor="end">0</text>
<line x1="170.4" y1="222.38" x2="171.4" y2="222.38" stroke="#4a4a4a" stroke-width="0.9"/>
<line x1="267.4" y1="222.38" x2="268.4" y2="222.38" stroke="#4a4a4a" stroke-width="0.9"/>
<text x="168" y="226.97" class="tk" text-anchor="end">-0.5</text>
<line x1="170.4" y1="247.86" x2="171.4" y2="247.86" stroke="#4a4a4a" stroke-width="0.9"/>
<line x1="267.4" y1="247.86" x2="268.4" y2="247.86" stroke="#4a4a4a" stroke-width="0.9"/>
<text x="168" y="252.46" class="tk" text-anchor="end">-1</text>
<line x1="170.4" y1="273.35" x2="171.4" y2="273.35" stroke="#4a4a4a" stroke-width="0.9"/>
<line x1="267.4" y1="273.35" x2="268.4" y2="273.35" stroke="#4a4a4a" stroke-width="0.9"/>
<text x="168" y="277.95" class="tk" text-anchor="end">-1.5</text>
<line x1="188" y1="273.35" x2="188" y2="272.35" stroke="#4a4a4a" stroke-width="0.9"/>
<line x1="188" y1="171.4" x2="188" y2="172.4" stroke="#4a4a4a" stroke-width="0.9"/>
<line x1="207.35" y1="273.35" x2="207.35" y2="272.35" stroke="#4a4a4a" stroke-width="0.9"/>
<line x1="207.35" y1="171.4" x2="207.35" y2="172.4" stroke="#4a4a4a" stroke-width="0.9"/>
<line x1="226.7" y1="273.35" x2="226.7" y2="272.35" stroke="#4a4a4a" stroke-width="0.9"/>
<line x1="226.7" y1="171.4" x2="226.7" y2="172.4" stroke="#4a4a4a" stroke-width="0.9"/>
<line x1="246.05" y1="273.35" x2="246.05" y2="272.35" stroke="#4a4a4a" stroke-width="0.9"/>
<line x1="246.05" y1="171.4" x2="246.05" y2="172.4" stroke="#4a4a4a" stroke-width="0.9"/>
<line x1="265.4" y1="273.35" x2="265.4" y2="272.35" stroke="#4a4a4a" stroke-width="0.9"/>
<line x1="265.4" y1="171.4" x2="265.4" y2="172.4" stroke="#4a4a4a" stroke-width="0.9"/>
<text x="188" y="286.25" class="tk" text-anchor="middle">20</text>
<text x="207.35" y="286.25" class="tk" text-anchor="middle">40</text>
<text x="226.7" y="286.25" class="tk" text-anchor="middle">60</text>
<text x="246.05" y="286.25" class="tk" text-anchor="middle">80</text>
<text x="265.4" y="286.25" class="tk" text-anchor="middle">100</text>
<text class="lb" text-anchor="middle" transform="translate(147.5,222.97) rotate(-90)">Amplitude</text>
<text x="219.4" y="298.5" class="lb" text-anchor="middle">Samples</text>
<text x="206.25" y="314.9" class="cap" text-anchor="middle">(<tspan font-weight="bold">f</tspan>)</text>
<clipPath id="cg"><rect x="307.5" y="170.2" width="101.9" height="103"/></clipPath>
<g clip-path="url(#cg)">
<line x1="317.4" y1="170.2" x2="317.4" y2="273.2" stroke="#555555" stroke-width="0.9" stroke-dasharray="6.5 3.25 1.5 3.33" stroke-dashoffset="5.2"/>
<line x1="321" y1="170.2" x2="321" y2="273.2" stroke="#555555" stroke-width="0.9" stroke-dasharray="6.5 3.25 1.5 3.33" stroke-dashoffset="5.2"/>
<line x1="324.5" y1="170.2" x2="324.5" y2="273.2" stroke="#555555" stroke-width="0.9" stroke-dasharray="6.5 3.25 1.5 3.33" stroke-dashoffset="5.2"/>
<line x1="326.5" y1="170.2" x2="326.5" y2="273.2" stroke="#555555" stroke-width="0.9" stroke-dasharray="6.5 3.25 1.5 3.33" stroke-dashoffset="5.2"/>
<line x1="348.5" y1="170.2" x2="348.5" y2="273.2" stroke="#555555" stroke-width="0.9" stroke-dasharray="6.5 3.25 1.5 3.33" stroke-dashoffset="5.2"/>
<line x1="357.2" y1="170.2" x2="357.2" y2="273.2" stroke="#555555" stroke-width="0.9" stroke-dasharray="6.5 3.25 1.5 3.33" stroke-dashoffset="5.2"/>
<polyline points="308.4,195.6 311.3,194.9 314,197 317,198.1 320.5,195.5 323.9,192.8 325.5,197 326.8,198.5 329.6,194.2 332,198 335.2,203.5 337,198 339.2,194.6 341.5,198 344,200.4 347,197.5 350,195.6 352.8,194.2 355,195.5 356.7,197.1 360,191.1 362,195.5 364.7,198.5 368.6,194.6 372.9,193.8 376.5,193.2 379.1,192.1 382,194.5 385.8,196.1 389.4,194.6 392,195.2 395.1,195.6" fill="none" stroke="#d2d5f0" stroke-width="4.5" stroke-linejoin="round" stroke-linecap="round" opacity="0.6"/>
<polyline points="395.1,195.6 402,196.2 408.7,196.4" fill="none" stroke="#d2d5f0" stroke-width="1.8" stroke-linejoin="round" stroke-linecap="round" opacity="0.8"/>
<path d="M308.4,193.49V198.01M309.1,193.92V197.78M309.8,193.28V197.29M310.5,192.51V197.34M311.2,192.91V196.66M311.9,193.03V196.88M312.6,194.08V197.81M313.3,194.08V198.44M314,194.79V198.68M314.7,195.1V199.48M315.4,195.01V199.96M316.1,195.3V199.7M316.8,196.34V199.54M317.5,196.28V199.76M318.2,194.79V198.96M318.9,194.53V199.25M319.6,194.07V197.78M320.3,193.58V197.17M321,192.77V197.06M321.7,192.62V196M322.4,192.61V195.89M323.1,192.03V195.92M323.8,190.68V194.66M324.5,192.13V195.93M325.2,194.17V198.03M325.9,195.62V199.33M326.6,196.93V200.18M327.3,195.71V199.16M328,195.18V198.91M328.7,193.01V197.08M329.4,192.91V196.26M330.1,193.09V197.1M330.8,193.65V198.65M331.5,194.9V199.09M332.2,196.98V200.2M332.9,197.87V201.01M333.6,199.28V202.5M334.3,199.58V203.57M335,201.63V204.77M335.7,200.17V204.5M336.4,197.78V202.03M337.1,196.17V200.02M337.8,194.87V198.8M338.5,193.11V197.53M339.2,192.04V196.66M339.9,193.82V197.2M340.6,195.06V198.25M341.3,195.8V200.14M342,197.08V200.93M342.7,197.57V201.5M343.4,198.29V202.06M344.1,198.91V202.3M344.8,197.22V202.04M345.5,196.45V201.32M346.2,196.02V199.97M346.9,195.97V199.68M347.6,194.84V199.26M348.3,194.47V199.18M349,193.96V198.13M349.7,193.47V197.52M350.4,193.57V197.88M351.1,193.55V197.59M351.8,192.79V197.04M352.5,192.48V196.32M353.2,192.33V196.63M353.9,192.41V196.68M354.6,193V196.87M355.3,193.42V197.35M356,194.2V198.38M356.7,195.26V199.5M357.4,193.75V197.58M358.1,192.17V196.03M358.8,191.46V194.72M359.5,190.36V194.27M360.2,189.84V193.92M360.9,190.53V195.24M361.6,192.64V196.53M362.3,193.55V197.47M363,194.81V198.37M363.7,195.91V199.01M364.4,196.35V199.78M365.1,196.6V199.73M365.8,194.81V199.48M366.5,194.36V199.07M367.2,194.29V198.44M367.9,192.81V196.69M368.6,192.37V196.06M369.3,192.33V196.22M370,192.79V196.1M370.7,192.87V195.75M371.4,192.21V196.13M372.1,191.62V195.88M372.8,191.38V196.38M373.5,191.34V195.09M374.2,191.14V195.15M374.9,191.97V195.5M375.6,191.05V195.06M376.3,191.69V194.69M377,191.53V194.7M377.7,190.75V194.69M378.4,190.61V194.67M379.1,189.89V193.55M379.8,190.94V194.13M380.5,191.74V195.6M381.2,192.45V196.19M381.9,191.83V196.5M382.6,192.3V196.24M383.3,193.33V197.1M384,192.97V196.8M384.7,193.28V197.48M385.4,193.69V198.22M386.1,193.56V198.22M386.8,193.95V197.81M387.5,193.67V197.53M388.2,193.35V197.69M388.9,192.38V197.05M389.6,193.06V196.12M390.3,192.85V197.4M391,192.62V196.64M391.7,192.88V196.5M392.4,193.33V197.03M393.1,193.55V197.73M393.8,193.29V197.94M394.5,193.57V197.7M395.2,194.38V196.68M395.9,194.42V196.85M396.6,194.57V196.78M397.3,194.69V196.94M398,194.83V197.07M398.7,194.64V197.06M399.4,194.96V197.25M400.1,194.98V197.17M400.8,194.92V197.04M401.5,194.99V197.22M402.2,195.12V197.4M402.9,195.25V197.21M403.6,195.11V197.33M404.3,195.15V197.37M405,195.32V197.31M405.7,195.32V197.32M406.4,195.29V197.26M407.1,195.38V197.3M407.8,195.43V197.39M408.5,195.44V197.35" stroke="#c4c8ea" stroke-width="0.7" opacity="0.6" fill="none"/>
<polyline points="308.4,195.6 311.3,194.9 314,197 317,198.1 320.5,195.5 323.9,192.8 325.5,197 326.8,198.5 329.6,194.2 332,198 335.2,203.5 337,198 339.2,194.6 341.5,198 344,200.4 347,197.5 350,195.6 352.8,194.2 355,195.5 356.7,197.1 360,191.1 362,195.5 364.7,198.5 368.6,194.6 372.9,193.8 376.5,193.2 379.1,192.1 382,194.5 385.8,196.1 389.4,194.6 392,195.2 395.1,195.6" fill="none" stroke="#1a12dc" stroke-width="2.1" stroke-linejoin="round" stroke-linecap="round"/>
<circle cx="311.3" cy="194.9" r="1.95" fill="#f4f000"/>
<circle cx="317" cy="198.1" r="1.95" fill="#f4f000"/>
<circle cx="323.9" cy="192.8" r="1.95" fill="#f4f000"/>
<circle cx="326.8" cy="198.5" r="1.95" fill="#f4f000"/>
<circle cx="329.6" cy="194.2" r="1.95" fill="#f4f000"/>
<circle cx="335.2" cy="203.5" r="1.95" fill="#f4f000"/>
<circle cx="339.2" cy="194.6" r="1.95" fill="#f4f000"/>
<circle cx="344" cy="200.4" r="1.95" fill="#f4f000"/>
<circle cx="356.7" cy="197.1" r="1.95" fill="#f4f000"/>
<circle cx="360" cy="191.1" r="1.95" fill="#f4f000"/>
<circle cx="364.7" cy="198.5" r="1.95" fill="#f4f000"/>
<circle cx="379.1" cy="192.1" r="1.95" fill="#f4f000"/>
<path d="M308,256 C308.3,256.22 309.03,256.73 309.8,257.3 C310.57,257.87 311.78,259.17 312.6,259.4 C313.42,259.63 314.1,258.63 314.7,258.7 C315.3,258.77 315.75,259.12 316.2,259.8 C316.65,260.48 317,263.77 317.4,262.8 C317.8,261.83 318.23,256.88 318.6,254 C318.97,251.12 319.32,247.5 319.6,245.5 C319.88,243.5 320.07,242.72 320.3,242 C320.53,241.28 320.77,241.2 321,241.2 C321.23,241.2 321.47,241.2 321.7,242 C321.93,242.8 322.12,243.67 322.4,246 C322.68,248.33 323.07,253.23 323.4,256 C323.73,258.77 323.98,262.03 324.4,262.6 C324.82,263.17 325.3,259.82 325.9,259.4 C326.5,258.98 327.23,259.88 328,260.1 C328.77,260.32 329.38,260.77 330.5,260.7 C331.62,260.63 333.23,260.13 334.7,259.7 C336.17,259.27 337.9,258.75 339.3,258.1 C340.7,257.45 341.92,256.63 343.1,255.8 C344.28,254.97 345.5,253.7 346.4,253.1 C347.3,252.5 347.8,252.07 348.5,252.2 C349.2,252.33 349.78,253.07 350.6,253.9 C351.42,254.73 352.47,256.35 353.4,257.2 C354.33,258.05 355.43,258.62 356.2,259 C356.97,259.38 357.17,259.52 358,259.5 C358.83,259.48 359.87,259.03 361.2,258.9 C362.53,258.77 363.15,258.78 366,258.7 C368.85,258.62 374.95,258.5 378.3,258.4 C381.65,258.3 383.2,258.1 386.1,258.1 C389,258.1 394.1,258.35 395.7,258.4" fill="none" stroke="#ff5050" stroke-width="2.0" stroke-linejoin="round" stroke-linecap="round"/>
</g>
<rect x="307.5" y="170.2" width="101.9" height="103" fill="none" stroke="#4a4a4a" stroke-width="0.9"/>
<line x1="307.5" y1="170.2" x2="308.5" y2="170.2" stroke="#4a4a4a" stroke-width="0.9"/>
<line x1="408.4" y1="170.2" x2="409.4" y2="170.2" stroke="#4a4a4a" stroke-width="0.9"/>
<text x="305.1" y="174.8" class="tk" text-anchor="end">0.5</text>
<line x1="307.5" y1="195.95" x2="308.5" y2="195.95" stroke="#4a4a4a" stroke-width="0.9"/>
<line x1="408.4" y1="195.95" x2="409.4" y2="195.95" stroke="#4a4a4a" stroke-width="0.9"/>
<text x="305.1" y="200.55" class="tk" text-anchor="end">0</text>
<line x1="307.5" y1="221.7" x2="308.5" y2="221.7" stroke="#4a4a4a" stroke-width="0.9"/>
<line x1="408.4" y1="221.7" x2="409.4" y2="221.7" stroke="#4a4a4a" stroke-width="0.9"/>
<text x="305.1" y="226.3" class="tk" text-anchor="end">-0.5</text>
<line x1="307.5" y1="247.45" x2="308.5" y2="247.45" stroke="#4a4a4a" stroke-width="0.9"/>
<line x1="408.4" y1="247.45" x2="409.4" y2="247.45" stroke="#4a4a4a" stroke-width="0.9"/>
<text x="305.1" y="252.05" class="tk" text-anchor="end">-1</text>
<line x1="307.5" y1="273.2" x2="308.5" y2="273.2" stroke="#4a4a4a" stroke-width="0.9"/>
<line x1="408.4" y1="273.2" x2="409.4" y2="273.2" stroke="#4a4a4a" stroke-width="0.9"/>
<text x="305.1" y="277.8" class="tk" text-anchor="end">-1.5</text>
<line x1="325.47" y1="273.2" x2="325.47" y2="272.2" stroke="#4a4a4a" stroke-width="0.9"/>
<line x1="325.47" y1="170.2" x2="325.47" y2="171.2" stroke="#4a4a4a" stroke-width="0.9"/>
<line x1="344.54" y1="273.2" x2="344.54" y2="272.2" stroke="#4a4a4a" stroke-width="0.9"/>
<line x1="344.54" y1="170.2" x2="344.54" y2="171.2" stroke="#4a4a4a" stroke-width="0.9"/>
<line x1="363.61" y1="273.2" x2="363.61" y2="272.2" stroke="#4a4a4a" stroke-width="0.9"/>
<line x1="363.61" y1="170.2" x2="363.61" y2="171.2" stroke="#4a4a4a" stroke-width="0.9"/>
<line x1="382.68" y1="273.2" x2="382.68" y2="272.2" stroke="#4a4a4a" stroke-width="0.9"/>
<line x1="382.68" y1="170.2" x2="382.68" y2="171.2" stroke="#4a4a4a" stroke-width="0.9"/>
<line x1="401.75" y1="273.2" x2="401.75" y2="272.2" stroke="#4a4a4a" stroke-width="0.9"/>
<line x1="401.75" y1="170.2" x2="401.75" y2="171.2" stroke="#4a4a4a" stroke-width="0.9"/>
<text x="325.47" y="286.1" class="tk" text-anchor="middle">20</text>
<text x="344.54" y="286.1" class="tk" text-anchor="middle">40</text>
<text x="363.61" y="286.1" class="tk" text-anchor="middle">60</text>
<text x="382.68" y="286.1" class="tk" text-anchor="middle">80</text>
<text x="401.75" y="286.1" class="tk" text-anchor="middle">100</text>
<text class="lb" text-anchor="middle" transform="translate(285,222.3) rotate(-90)">Amplitude</text>
<text x="358.45" y="298.5" class="lb" text-anchor="middle">Samples</text>
<text x="343.75" y="314.9" class="cap" text-anchor="middle">(<tspan font-weight="bold">g</tspan>)</text>
<clipPath id="ch"><rect x="445.05" y="170.4" width="101.45" height="102.8"/></clipPath>
<g clip-path="url(#ch)">
<line x1="453.2" y1="170.4" x2="453.2" y2="273.2" stroke="#555555" stroke-width="0.9" stroke-dasharray="6.5 3.25 1.5 3.33" stroke-dashoffset="5.6"/>
<line x1="457" y1="170.4" x2="457" y2="273.2" stroke="#555555" stroke-width="0.9" stroke-dasharray="6.5 3.25 1.5 3.33" stroke-dashoffset="5.6"/>
<line x1="460.4" y1="170.4" x2="460.4" y2="273.2" stroke="#555555" stroke-width="0.9" stroke-dasharray="6.5 3.25 1.5 3.33" stroke-dashoffset="5.6"/>
<line x1="462" y1="170.4" x2="462" y2="273.2" stroke="#555555" stroke-width="0.9" stroke-dasharray="6.5 3.25 1.5 3.33" stroke-dashoffset="5.6"/>
<line x1="478" y1="170.4" x2="478" y2="273.2" stroke="#555555" stroke-width="0.9" stroke-dasharray="6.5 3.25 1.5 3.33" stroke-dashoffset="5.6"/>
<line x1="485.4" y1="170.4" x2="485.4" y2="273.2" stroke="#555555" stroke-width="0.9" stroke-dasharray="6.5 3.25 1.5 3.33" stroke-dashoffset="5.6"/>
<polyline points="445.6,196.3 448,196.8 451.3,194.4 455,198.7 457,196 458.9,191.8 460,195 460.8,205 461.5,217 462.5,200 463.9,186.6 465.8,195 467.5,199.5 469.4,201.6 472,200.5 475.1,200.8 478,198.5 481.3,196 484.5,198.2 486.4,190 487.7,184.6 491,189.8 495.8,194.7 496,194.7 499,196.5 501.4,197.6 504.6,192.7 507,196.5 509.8,197.1 513,196 517.1,195 521.1,195.8 527.6,196 532,196.2 537.3,196.4" fill="none" stroke="#d2d5f0" stroke-width="4.5" stroke-linejoin="round" stroke-linecap="round" opacity="0.6"/>
<polyline points="537.3,196.6 542,196 545.4,196.3" fill="none" stroke="#d2d5f0" stroke-width="3.5" stroke-linejoin="round" stroke-linecap="round" opacity="0.8"/>
<path d="M445.6,194.74V198.09M446.3,194.9V198.35M447,194.77V198.01M447.7,194.43V199.23M448.4,194.59V198.49M449.1,194.42V198.4M449.8,193.44V197.99M450.5,193.51V197.2M451.2,192V196.73M451.9,192.54V196.62M452.6,193.65V197.28M453.3,195.35V198.9M454,195.05V199.72M454.7,196.37V200.78M455.4,196.74V199.61M456.1,195.48V198.78M456.8,193.93V197.67M457.5,192.76V197.11M458.2,191.2V195.94M458.9,189.31V193.54M459.6,191.42V195.39M460.3,197.39V200.93M461,206.78V210.23M461.7,211.05V215.05M462.4,199.23V203.87M463.1,192.66V196.24M463.8,185.41V189.54M464.5,187.4V191.82M465.2,190.11V194.62M465.9,193.15V197.28M466.6,194.58V199.49M467.3,197.31V201.05M468,197.77V202.62M468.7,199.11V202.61M469.4,199.82V203.44M470.1,199.63V202.77M470.8,198.95V203.33M471.5,198.28V202.82M472.2,198.38V201.96M472.9,198.49V202.68M473.6,198.78V202.95M474.3,198.6V202.74M475,198.43V202.5M475.7,197.88V202.19M476.4,197.96V202.1M477.1,197.59V201.15M477.8,196.85V201.05M478.5,195.66V199.84M479.2,195.43V199.48M479.9,195.1V199.54M480.6,193.98V198.51M481.3,193.82V198.5M482,193.95V198.34M482.7,195.36V199.23M483.4,195.41V199.14M484.1,195.78V199.5M484.8,195.39V199.5M485.5,192.53V195.34M486.2,188.29V192.73M486.9,185.77V190.25M487.6,183.23V186.77M488.3,182.97V187.4M489,184.11V188.31M489.7,185.94V189.51M490.4,186.82V190.74M491.1,187.31V191.97M491.8,188.91V192.76M492.5,189.37V193.61M493.2,190.38V194.03M493.9,190.36V194.32M494.6,190.93V195.09M495.3,192.27V195.66M496,192.28V196.74M496.7,193.25V197.39M497.4,194.1V197.06M498.1,193.57V198.5M498.8,194.69V198.32M499.5,195.19V198.43M500.2,195.62V198.63M500.9,195.76V199.38M501.6,195.61V198.74M502.3,194.55V197.73M503,193.43V197.45M503.7,192.24V195.45M504.4,191.11V194.41M505.1,190.98V194.98M505.8,192.08V196.55M506.5,193.91V197.95M507.2,194.08V197.98M507.9,194.33V198.63M508.6,194.53V198.76M509.3,195.1V199.19M510,194.97V199.61M510.7,195.07V198.58M511.4,194.84V198.71M512.1,194.7V197.81M512.8,194.09V198.23M513.5,194.26V197.71M514.2,193.82V197.74M514.9,194.16V197.29M515.6,193.96V197.51M516.3,193.62V196.88M517,193.65V197.35M517.7,193.59V196.63M518.4,193.64V197.03M519.1,193.33V197.86M519.8,194.18V196.97M520.5,194.29V198.1M521.2,193.95V197.81M521.9,193.94V198.08M522.6,193.81V198.07M523.3,193.45V197.74M524,193.59V197.45M524.7,193.54V198.04M525.4,193.68V197.32M526.1,193.99V197.8M526.8,193.73V197.94M527.5,194.57V198.51M528.2,194.36V198.59M528.9,193.77V198.47M529.6,194.45V198.5M530.3,194.22V198.4M531,193.89V197.89M531.7,194.8V198.36M532.4,194.51V198.8M533.1,194.12V198.4M533.8,193.7V198.5M534.5,194.3V198.78M535.2,194.18V198.27M535.9,194.55V197.87M536.6,194.44V198.28M537.3,194.87V198.92M538,194.29V198.24M538.7,193.43V198.42M539.4,194.38V198.68M540.1,193.53V198.09M540.8,194.58V197.68M541.5,194.74V198.49M542.2,194.41V197.97M542.9,194.66V197.99M543.6,194.14V198.06M544.3,194.45V197.91M545,194.54V197.59" stroke="#c4c8ea" stroke-width="0.7" opacity="0.6" fill="none"/>
<polyline points="445.6,196.3 448,196.8 451.3,194.4 455,198.7 457,196 458.9,191.8 460,195 460.8,205 461.5,217 462.5,200 463.9,186.6 465.8,195 467.5,199.5 469.4,201.6 472,200.5 475.1,200.8 478,198.5 481.3,196 484.5,198.2 486.4,190 487.7,184.6 491,189.8 495.8,194.7 496,194.7 499,196.5 501.4,197.6 504.6,192.7 507,196.5 508,197.07 508.9,196.59 509.8,197.59 510.7,196.78 511.6,196.37 512.5,196.3 513.4,195.54 514.3,195.35 515.2,195.38 516.1,194.95 517,195.21 517.9,195.07 518.8,195.21 519.7,195.28 520.6,195.39 521.5,196.05 522.4,196.28 523.3,195.7 524.2,196.23 525.1,195.72 526,196.24 526.9,195.69 527.8,196.08 528.7,195.95 529.6,196.5 530.5,196.42 531.4,195.74 532.3,195.77 533.2,196.2 534.1,195.97 535,196.02 535.9,196.84 536.8,196.87 537.3,196.4" fill="none" stroke="#1a12dc" stroke-width="2.1" stroke-linejoin="round" stroke-linecap="round"/>
<circle cx="451.3" cy="194.4" r="1.95" fill="#f4f000"/>
<circle cx="455" cy="198.7" r="1.95" fill="#f4f000"/>
<circle cx="458.9" cy="191.8" r="1.95" fill="#f4f000"/>
<circle cx="461.5" cy="217" r="1.95" fill="#f4f000"/>
<circle cx="463.9" cy="186.6" r="1.95" fill="#f4f000"/>
<circle cx="469.4" cy="201.6" r="1.95" fill="#f4f000"/>
<circle cx="475.1" cy="200.8" r="1.95" fill="#f4f000"/>
<circle cx="484.5" cy="198.2" r="1.95" fill="#f4f000"/>
<circle cx="487.7" cy="184.6" r="1.95" fill="#f4f000"/>
<circle cx="501.4" cy="197.6" r="1.95" fill="#f4f000"/>
<circle cx="504.6" cy="192.7" r="1.95" fill="#f4f000"/>
<path d="M445.2,259.5 C445.62,259.77 446.65,260.72 447.7,261.1 C448.75,261.48 450.53,261.52 451.5,261.8 C452.47,262.08 452.95,263.93 453.5,262.8 C454.05,261.67 454.38,257.72 454.8,255 C455.22,252.28 455.62,248.47 456,246.5 C456.38,244.53 456.77,243.58 457.1,243.2 C457.43,242.82 457.7,242.98 458,244.2 C458.3,245.42 458.62,247.93 458.9,250.5 C459.18,253.07 459.3,258.2 459.7,259.6 C460.1,261 460.8,258.77 461.3,258.9 C461.8,259.03 462.27,260.18 462.7,260.4 C463.13,260.62 463.08,260.43 463.9,260.2 C464.72,259.97 466.37,259.5 467.6,259 C468.83,258.5 470.05,258.05 471.3,257.2 C472.55,256.35 474,254.83 475.1,253.9 C476.2,252.97 477.12,251.68 477.9,251.6 C478.68,251.52 479.18,252.32 479.8,253.4 C480.42,254.48 480.83,256.73 481.6,258.1 C482.37,259.47 483.47,260.98 484.4,261.6 C485.33,262.22 486.1,262 487.2,261.8 C488.3,261.6 489.75,260.82 491,260.4 C492.25,259.98 493.5,259.6 494.7,259.3 C495.9,259 496.05,258.87 498.2,258.6 C500.35,258.33 504.23,257.98 507.6,257.7 C510.97,257.42 515.03,256.97 518.4,256.9 C521.77,256.83 524.55,256.97 527.8,257.3 C531.05,257.63 536.22,258.63 537.9,258.9" fill="none" stroke="#ff5050" stroke-width="2.0" stroke-linejoin="round" stroke-linecap="round"/>
</g>
<rect x="445.05" y="170.4" width="101.45" height="102.8" fill="none" stroke="#4a4a4a" stroke-width="0.9"/>
<line x1="445.05" y1="170.4" x2="446.05" y2="170.4" stroke="#4a4a4a" stroke-width="0.9"/>
<line x1="545.5" y1="170.4" x2="546.5" y2="170.4" stroke="#4a4a4a" stroke-width="0.9"/>
<text x="442.65" y="175" class="tk" text-anchor="end">0.5</text>
<line x1="445.05" y1="196.1" x2="446.05" y2="196.1" stroke="#4a4a4a" stroke-width="0.9"/>
<line x1="545.5" y1="196.1" x2="546.5" y2="196.1" stroke="#4a4a4a" stroke-width="0.9"/>
<text x="442.65" y="200.7" class="tk" text-anchor="end">0</text>
<line x1="445.05" y1="221.8" x2="446.05" y2="221.8" stroke="#4a4a4a" stroke-width="0.9"/>
<line x1="545.5" y1="221.8" x2="546.5" y2="221.8" stroke="#4a4a4a" stroke-width="0.9"/>
<text x="442.65" y="226.4" class="tk" text-anchor="end">-0.5</text>
<line x1="445.05" y1="247.5" x2="446.05" y2="247.5" stroke="#4a4a4a" stroke-width="0.9"/>
<line x1="545.5" y1="247.5" x2="546.5" y2="247.5" stroke="#4a4a4a" stroke-width="0.9"/>
<text x="442.65" y="252.1" class="tk" text-anchor="end">-1</text>
<line x1="445.05" y1="273.2" x2="446.05" y2="273.2" stroke="#4a4a4a" stroke-width="0.9"/>
<line x1="545.5" y1="273.2" x2="546.5" y2="273.2" stroke="#4a4a4a" stroke-width="0.9"/>
<text x="442.65" y="277.8" class="tk" text-anchor="end">-1.5</text>
<line x1="459.4" y1="273.2" x2="459.4" y2="272.2" stroke="#4a4a4a" stroke-width="0.9"/>
<line x1="459.4" y1="170.4" x2="459.4" y2="171.4" stroke="#4a4a4a" stroke-width="0.9"/>
<line x1="474.7" y1="273.2" x2="474.7" y2="272.2" stroke="#4a4a4a" stroke-width="0.9"/>
<line x1="474.7" y1="170.4" x2="474.7" y2="171.4" stroke="#4a4a4a" stroke-width="0.9"/>
<line x1="490" y1="273.2" x2="490" y2="272.2" stroke="#4a4a4a" stroke-width="0.9"/>
<line x1="490" y1="170.4" x2="490" y2="171.4" stroke="#4a4a4a" stroke-width="0.9"/>
<line x1="505.3" y1="273.2" x2="505.3" y2="272.2" stroke="#4a4a4a" stroke-width="0.9"/>
<line x1="505.3" y1="170.4" x2="505.3" y2="171.4" stroke="#4a4a4a" stroke-width="0.9"/>
<line x1="520.6" y1="273.2" x2="520.6" y2="272.2" stroke="#4a4a4a" stroke-width="0.9"/>
<line x1="520.6" y1="170.4" x2="520.6" y2="171.4" stroke="#4a4a4a" stroke-width="0.9"/>
<line x1="535.9" y1="273.2" x2="535.9" y2="272.2" stroke="#4a4a4a" stroke-width="0.9"/>
<line x1="535.9" y1="170.4" x2="535.9" y2="171.4" stroke="#4a4a4a" stroke-width="0.9"/>
<text x="459.4" y="286.1" class="tk" text-anchor="middle">20</text>
<text x="490" y="286.1" class="tk" text-anchor="middle">60</text>
<text x="520.6" y="286.1" class="tk" text-anchor="middle">100</text>
<text class="lb" text-anchor="middle" transform="translate(422.5,222.4) rotate(-90)">Amplitude</text>
<text x="495.77" y="298.5" class="lb" text-anchor="middle">Samples</text>
<text x="481.25" y="314.9" class="cap" text-anchor="middle">(<tspan font-weight="bold">h</tspan>)</text>
</svg>
</body></html>
